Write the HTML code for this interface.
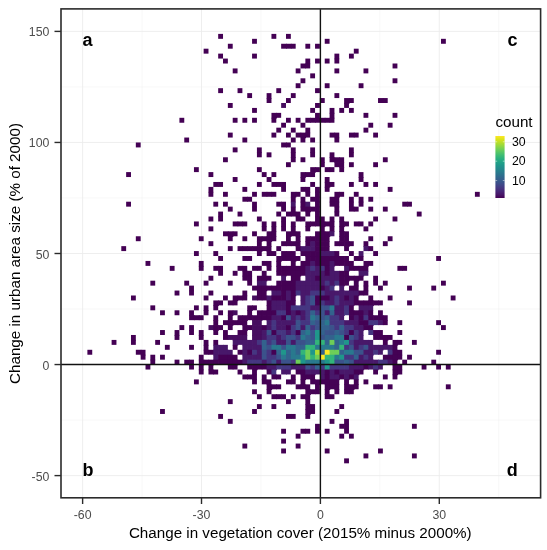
<!DOCTYPE html><html><head><meta charset="utf-8"><title>plot</title><style>html,body{margin:0;padding:0;background:#fff}svg{display:block}text{font-family:"Liberation Sans",sans-serif}</style></head><body>
<svg width="547" height="550" viewBox="0 0 547 550">
<rect width="547" height="550" fill="#fff"/>
<g><line x1="142.06" x2="142.06" y1="8.9" y2="497.8" stroke="#efefef" stroke-width="0.45"/><line x1="260.95" x2="260.95" y1="8.9" y2="497.8" stroke="#efefef" stroke-width="0.45"/><line x1="379.84" x2="379.84" y1="8.9" y2="497.8" stroke="#efefef" stroke-width="0.45"/><line x1="498.74" x2="498.74" y1="8.9" y2="497.8" stroke="#efefef" stroke-width="0.45"/><line y1="420.08" y2="420.08" x1="61.0" x2="540.6" stroke="#efefef" stroke-width="0.45"/><line y1="309.02" y2="309.02" x1="61.0" x2="540.6" stroke="#efefef" stroke-width="0.45"/><line y1="197.97" y2="197.97" x1="61.0" x2="540.6" stroke="#efefef" stroke-width="0.45"/><line y1="86.93" y2="86.93" x1="61.0" x2="540.6" stroke="#efefef" stroke-width="0.45"/><line x1="82.62" x2="82.62" y1="8.9" y2="497.8" stroke="#ebebeb" stroke-width="0.85"/><line x1="201.51" x2="201.51" y1="8.9" y2="497.8" stroke="#ebebeb" stroke-width="0.85"/><line x1="320.40" x2="320.40" y1="8.9" y2="497.8" stroke="#ebebeb" stroke-width="0.85"/><line x1="439.29" x2="439.29" y1="8.9" y2="497.8" stroke="#ebebeb" stroke-width="0.85"/><line y1="475.60" y2="475.60" x1="61.0" x2="540.6" stroke="#ebebeb" stroke-width="0.85"/><line y1="364.55" y2="364.55" x1="61.0" x2="540.6" stroke="#ebebeb" stroke-width="0.85"/><line y1="253.50" y2="253.50" x1="61.0" x2="540.6" stroke="#ebebeb" stroke-width="0.85"/><line y1="142.45" y2="142.45" x1="61.0" x2="540.6" stroke="#ebebeb" stroke-width="0.85"/><line y1="31.40" y2="31.40" x1="61.0" x2="540.6" stroke="#ebebeb" stroke-width="0.85"/></g>
<g shape-rendering="auto"><rect x="87.39" y="349.79" width="4.84" height="4.94" fill="#440154"/><rect x="111.61" y="339.92" width="4.84" height="4.94" fill="#440154"/><rect x="121.30" y="246.14" width="4.84" height="4.94" fill="#440154"/><rect x="126.14" y="172.10" width="4.84" height="4.94" fill="#440154"/><rect x="126.14" y="201.71" width="4.84" height="4.94" fill="#440154"/><rect x="130.98" y="295.50" width="4.84" height="4.94" fill="#440154"/><rect x="130.98" y="334.98" width="4.84" height="5.64" fill="#440154"/><rect x="130.98" y="339.92" width="4.84" height="4.94" fill="#440154"/><rect x="135.83" y="142.48" width="4.84" height="4.94" fill="#440154"/><rect x="135.83" y="236.26" width="4.84" height="4.94" fill="#440154"/><rect x="135.83" y="349.79" width="5.54" height="4.94" fill="#440154"/><rect x="140.67" y="349.79" width="4.84" height="5.64" fill="#440154"/><rect x="140.67" y="354.73" width="4.84" height="4.94" fill="#440154"/><rect x="145.52" y="260.94" width="4.84" height="4.94" fill="#440154"/><rect x="145.52" y="364.60" width="4.84" height="4.94" fill="#440154"/><rect x="150.36" y="280.69" width="4.84" height="4.94" fill="#440154"/><rect x="150.36" y="305.37" width="4.84" height="4.94" fill="#440154"/><rect x="150.36" y="354.73" width="4.84" height="5.64" fill="#440154"/><rect x="150.36" y="359.66" width="4.84" height="4.94" fill="#440154"/><rect x="155.20" y="339.92" width="4.84" height="4.94" fill="#440154"/><rect x="160.05" y="310.30" width="4.84" height="4.94" fill="#440154"/><rect x="160.05" y="330.05" width="4.84" height="4.94" fill="#440154"/><rect x="160.05" y="354.73" width="4.84" height="4.94" fill="#440154"/><rect x="160.05" y="409.02" width="4.84" height="4.94" fill="#440154"/><rect x="164.89" y="344.86" width="4.84" height="4.94" fill="#440154"/><rect x="169.74" y="265.88" width="4.84" height="4.94" fill="#440154"/><rect x="174.58" y="290.56" width="4.84" height="4.94" fill="#440154"/><rect x="174.58" y="310.30" width="4.84" height="4.94" fill="#440154"/><rect x="174.58" y="330.05" width="4.84" height="5.64" fill="#440154"/><rect x="174.58" y="334.98" width="4.84" height="4.94" fill="#440154"/><rect x="174.58" y="359.66" width="4.84" height="4.94" fill="#440154"/><rect x="179.42" y="117.80" width="4.84" height="4.94" fill="#440154"/><rect x="179.42" y="325.11" width="4.84" height="4.94" fill="#440154"/><rect x="184.27" y="137.54" width="4.84" height="4.94" fill="#440154"/><rect x="184.27" y="280.69" width="4.84" height="4.94" fill="#440154"/><rect x="184.27" y="359.66" width="5.54" height="4.94" fill="#440154"/><rect x="189.11" y="285.62" width="4.84" height="5.64" fill="#440154"/><rect x="189.11" y="290.56" width="4.84" height="4.94" fill="#440154"/><rect x="189.11" y="310.30" width="4.84" height="5.64" fill="#440154"/><rect x="189.11" y="315.24" width="5.54" height="4.94" fill="#440154"/><rect x="189.11" y="325.11" width="4.84" height="5.64" fill="#440154"/><rect x="189.11" y="330.05" width="4.84" height="4.94" fill="#440154"/><rect x="189.11" y="344.86" width="4.84" height="4.94" fill="#440154"/><rect x="189.11" y="359.66" width="4.84" height="5.64" fill="#440154"/><rect x="189.11" y="364.60" width="4.84" height="4.94" fill="#440154"/><rect x="193.96" y="167.16" width="4.84" height="4.94" fill="#440154"/><rect x="193.96" y="221.46" width="4.84" height="4.94" fill="#440154"/><rect x="193.96" y="251.07" width="4.84" height="4.94" fill="#440154"/><rect x="193.96" y="305.37" width="4.84" height="4.94" fill="#440154"/><rect x="193.96" y="315.24" width="5.54" height="4.94" fill="#440154"/><rect x="193.96" y="379.41" width="4.84" height="4.94" fill="#440154"/><rect x="198.80" y="236.26" width="4.84" height="4.94" fill="#440154"/><rect x="198.80" y="260.94" width="4.84" height="5.64" fill="#440154"/><rect x="198.80" y="265.88" width="4.84" height="4.94" fill="#440154"/><rect x="198.80" y="315.24" width="4.84" height="4.94" fill="#440154"/><rect x="198.80" y="330.05" width="4.84" height="5.64" fill="#440154"/><rect x="198.80" y="334.98" width="4.84" height="4.94" fill="#440154"/><rect x="198.80" y="354.73" width="4.84" height="5.64" fill="#440154"/><rect x="198.80" y="359.66" width="5.54" height="5.64" fill="#440154"/><rect x="198.80" y="364.60" width="4.84" height="5.64" fill="#440154"/><rect x="198.80" y="369.54" width="4.84" height="4.94" fill="#440154"/><rect x="203.64" y="48.70" width="4.84" height="4.94" fill="#440154"/><rect x="203.64" y="280.69" width="4.84" height="4.94" fill="#440154"/><rect x="203.64" y="295.50" width="4.84" height="4.94" fill="#440154"/><rect x="203.64" y="305.37" width="4.84" height="5.64" fill="#440154"/><rect x="203.64" y="310.30" width="4.84" height="4.94" fill="#440154"/><rect x="203.64" y="339.92" width="4.84" height="5.64" fill="#440154"/><rect x="203.64" y="344.86" width="4.84" height="5.64" fill="#440154"/><rect x="203.64" y="349.79" width="5.54" height="4.94" fill="#440154"/><rect x="203.64" y="359.66" width="5.54" height="4.94" fill="#440154"/><rect x="208.49" y="172.10" width="4.84" height="4.94" fill="#440154"/><rect x="208.49" y="186.90" width="4.84" height="5.64" fill="#440154"/><rect x="208.49" y="191.84" width="4.84" height="4.94" fill="#440154"/><rect x="208.49" y="216.52" width="4.84" height="4.94" fill="#440154"/><rect x="208.49" y="226.39" width="4.84" height="4.94" fill="#440154"/><rect x="208.49" y="241.20" width="4.84" height="4.94" fill="#440154"/><rect x="208.49" y="275.75" width="4.84" height="4.94" fill="#440154"/><rect x="208.49" y="290.56" width="4.84" height="4.94" fill="#440154"/><rect x="208.49" y="325.11" width="5.54" height="4.94" fill="#460d5f"/><rect x="208.49" y="349.79" width="5.54" height="4.94" fill="#440154"/><rect x="208.49" y="359.66" width="5.54" height="5.64" fill="#440154"/><rect x="208.49" y="364.60" width="4.84" height="5.64" fill="#440154"/><rect x="208.49" y="369.54" width="5.54" height="4.94" fill="#440154"/><rect x="213.33" y="181.97" width="5.54" height="4.94" fill="#440154"/><rect x="213.33" y="201.71" width="4.84" height="4.94" fill="#440154"/><rect x="213.33" y="251.07" width="4.84" height="4.94" fill="#440154"/><rect x="213.33" y="265.88" width="5.54" height="4.94" fill="#440154"/><rect x="213.33" y="300.43" width="5.54" height="5.64" fill="#440154"/><rect x="213.33" y="305.37" width="4.84" height="4.94" fill="#440154"/><rect x="213.33" y="315.24" width="4.84" height="5.64" fill="#440154"/><rect x="213.33" y="320.18" width="4.84" height="5.64" fill="#440154"/><rect x="213.33" y="325.11" width="5.54" height="5.64" fill="#440154"/><rect x="213.33" y="330.05" width="4.84" height="4.94" fill="#440154"/><rect x="213.33" y="339.92" width="4.84" height="5.64" fill="#440154"/><rect x="213.33" y="344.86" width="5.54" height="5.64" fill="#48186a"/><rect x="213.33" y="349.79" width="5.54" height="5.64" fill="#48186a"/><rect x="213.33" y="354.73" width="5.54" height="5.64" fill="#48186a"/><rect x="213.33" y="359.66" width="5.54" height="4.94" fill="#440154"/><rect x="213.33" y="369.54" width="4.84" height="4.94" fill="#440154"/><rect x="218.18" y="33.89" width="4.84" height="4.94" fill="#440154"/><rect x="218.18" y="53.63" width="4.84" height="4.94" fill="#440154"/><rect x="218.18" y="88.18" width="4.84" height="4.94" fill="#440154"/><rect x="218.18" y="181.97" width="4.84" height="4.94" fill="#440154"/><rect x="218.18" y="211.58" width="4.84" height="5.64" fill="#440154"/><rect x="218.18" y="216.52" width="4.84" height="4.94" fill="#440154"/><rect x="218.18" y="256.01" width="4.84" height="4.94" fill="#440154"/><rect x="218.18" y="265.88" width="4.84" height="5.64" fill="#440154"/><rect x="218.18" y="270.82" width="4.84" height="4.94" fill="#440154"/><rect x="218.18" y="300.43" width="4.84" height="4.94" fill="#440154"/><rect x="218.18" y="310.30" width="4.84" height="4.94" fill="#440154"/><rect x="218.18" y="325.11" width="4.84" height="4.94" fill="#440154"/><rect x="218.18" y="344.86" width="5.54" height="5.64" fill="#48186a"/><rect x="218.18" y="349.79" width="5.54" height="5.64" fill="#48186a"/><rect x="218.18" y="354.73" width="5.54" height="5.64" fill="#440154"/><rect x="218.18" y="359.66" width="5.54" height="4.94" fill="#440154"/><rect x="218.18" y="413.96" width="4.84" height="4.94" fill="#440154"/><rect x="223.02" y="58.57" width="4.84" height="4.94" fill="#440154"/><rect x="223.02" y="157.29" width="4.84" height="4.94" fill="#440154"/><rect x="223.02" y="191.84" width="4.84" height="4.94" fill="#440154"/><rect x="223.02" y="201.71" width="4.84" height="4.94" fill="#440154"/><rect x="223.02" y="231.33" width="5.54" height="4.94" fill="#440154"/><rect x="223.02" y="295.50" width="4.84" height="4.94" fill="#440154"/><rect x="223.02" y="320.18" width="5.54" height="4.94" fill="#440154"/><rect x="223.02" y="330.05" width="4.84" height="5.64" fill="#440154"/><rect x="223.02" y="334.98" width="5.54" height="4.94" fill="#440154"/><rect x="223.02" y="344.86" width="4.84" height="5.64" fill="#48186a"/><rect x="223.02" y="349.79" width="5.54" height="5.64" fill="#48186a"/><rect x="223.02" y="354.73" width="5.54" height="5.64" fill="#440154"/><rect x="223.02" y="359.66" width="5.54" height="4.94" fill="#440154"/><rect x="227.86" y="43.76" width="4.84" height="4.94" fill="#440154"/><rect x="227.86" y="102.99" width="4.84" height="4.94" fill="#440154"/><rect x="227.86" y="132.61" width="4.84" height="4.94" fill="#440154"/><rect x="227.86" y="206.65" width="4.84" height="4.94" fill="#440154"/><rect x="227.86" y="231.33" width="5.54" height="5.64" fill="#440154"/><rect x="227.86" y="236.26" width="4.84" height="4.94" fill="#440154"/><rect x="227.86" y="246.14" width="4.84" height="4.94" fill="#440154"/><rect x="227.86" y="280.69" width="4.84" height="4.94" fill="#440154"/><rect x="227.86" y="300.43" width="5.54" height="4.94" fill="#440154"/><rect x="227.86" y="310.30" width="5.54" height="5.64" fill="#440154"/><rect x="227.86" y="315.24" width="4.84" height="5.64" fill="#440154"/><rect x="227.86" y="320.18" width="5.54" height="5.64" fill="#440154"/><rect x="227.86" y="325.11" width="4.84" height="4.94" fill="#440154"/><rect x="227.86" y="334.98" width="5.54" height="4.94" fill="#460d5f"/><rect x="227.86" y="349.79" width="4.84" height="5.64" fill="#48186a"/><rect x="227.86" y="354.73" width="5.54" height="5.64" fill="#440154"/><rect x="227.86" y="359.66" width="5.54" height="5.64" fill="#440154"/><rect x="227.86" y="364.60" width="5.54" height="4.94" fill="#440154"/><rect x="227.86" y="399.15" width="4.84" height="4.94" fill="#440154"/><rect x="227.86" y="418.90" width="4.84" height="4.94" fill="#440154"/><rect x="232.71" y="68.44" width="4.84" height="4.94" fill="#440154"/><rect x="232.71" y="117.80" width="4.84" height="4.94" fill="#440154"/><rect x="232.71" y="147.42" width="4.84" height="4.94" fill="#440154"/><rect x="232.71" y="177.03" width="4.84" height="4.94" fill="#440154"/><rect x="232.71" y="221.46" width="5.54" height="4.94" fill="#440154"/><rect x="232.71" y="231.33" width="4.84" height="4.94" fill="#440154"/><rect x="232.71" y="270.82" width="4.84" height="4.94" fill="#440154"/><rect x="232.71" y="295.50" width="5.54" height="5.64" fill="#440154"/><rect x="232.71" y="300.43" width="4.84" height="4.94" fill="#440154"/><rect x="232.71" y="310.30" width="4.84" height="4.94" fill="#460d5f"/><rect x="232.71" y="320.18" width="5.54" height="4.94" fill="#440154"/><rect x="232.71" y="334.98" width="5.54" height="5.64" fill="#460d5f"/><rect x="232.71" y="339.92" width="5.54" height="5.64" fill="#48186a"/><rect x="232.71" y="344.86" width="4.84" height="4.94" fill="#440154"/><rect x="232.71" y="354.73" width="4.84" height="5.64" fill="#440154"/><rect x="232.71" y="359.66" width="5.54" height="5.64" fill="#440154"/><rect x="232.71" y="364.60" width="4.84" height="4.94" fill="#440154"/><rect x="237.55" y="88.18" width="4.84" height="4.94" fill="#440154"/><rect x="237.55" y="211.58" width="4.84" height="4.94" fill="#440154"/><rect x="237.55" y="221.46" width="5.54" height="4.94" fill="#440154"/><rect x="237.55" y="246.14" width="5.54" height="4.94" fill="#440154"/><rect x="237.55" y="265.88" width="5.54" height="4.94" fill="#440154"/><rect x="237.55" y="295.50" width="5.54" height="4.94" fill="#440154"/><rect x="237.55" y="315.24" width="5.54" height="5.64" fill="#440154"/><rect x="237.55" y="320.18" width="5.54" height="4.94" fill="#440154"/><rect x="237.55" y="330.05" width="5.54" height="5.64" fill="#440154"/><rect x="237.55" y="334.98" width="5.54" height="5.64" fill="#460d5f"/><rect x="237.55" y="339.92" width="5.54" height="4.94" fill="#48186a"/><rect x="237.55" y="349.79" width="5.54" height="4.94" fill="#440154"/><rect x="237.55" y="359.66" width="5.54" height="4.94" fill="#440154"/><rect x="237.55" y="369.54" width="4.84" height="4.94" fill="#440154"/><rect x="242.40" y="117.80" width="4.84" height="4.94" fill="#440154"/><rect x="242.40" y="137.54" width="4.84" height="4.94" fill="#440154"/><rect x="242.40" y="186.90" width="4.84" height="4.94" fill="#440154"/><rect x="242.40" y="196.78" width="5.54" height="4.94" fill="#440154"/><rect x="242.40" y="221.46" width="4.84" height="4.94" fill="#440154"/><rect x="242.40" y="236.26" width="4.84" height="4.94" fill="#440154"/><rect x="242.40" y="246.14" width="5.54" height="4.94" fill="#440154"/><rect x="242.40" y="256.01" width="5.54" height="4.94" fill="#440154"/><rect x="242.40" y="265.88" width="4.84" height="5.64" fill="#440154"/><rect x="242.40" y="270.82" width="5.54" height="5.64" fill="#440154"/><rect x="242.40" y="275.75" width="5.54" height="4.94" fill="#440154"/><rect x="242.40" y="290.56" width="4.84" height="5.64" fill="#440154"/><rect x="242.40" y="295.50" width="4.84" height="4.94" fill="#440154"/><rect x="242.40" y="315.24" width="5.54" height="5.64" fill="#440154"/><rect x="242.40" y="320.18" width="4.84" height="5.64" fill="#440154"/><rect x="242.40" y="325.11" width="5.54" height="5.64" fill="#440154"/><rect x="242.40" y="330.05" width="4.84" height="5.64" fill="#440154"/><rect x="242.40" y="334.98" width="4.84" height="5.64" fill="#460d5f"/><rect x="242.40" y="339.92" width="5.54" height="5.64" fill="#48186a"/><rect x="242.40" y="344.86" width="5.54" height="5.64" fill="#48186a"/><rect x="242.40" y="349.79" width="5.54" height="5.64" fill="#48186a"/><rect x="242.40" y="354.73" width="5.54" height="5.64" fill="#48186a"/><rect x="242.40" y="359.66" width="5.54" height="4.94" fill="#48186a"/><rect x="242.40" y="374.47" width="5.54" height="4.94" fill="#440154"/><rect x="242.40" y="443.58" width="4.84" height="4.94" fill="#440154"/><rect x="247.24" y="93.12" width="4.84" height="4.94" fill="#440154"/><rect x="247.24" y="196.78" width="4.84" height="4.94" fill="#440154"/><rect x="247.24" y="246.14" width="5.54" height="4.94" fill="#440154"/><rect x="247.24" y="256.01" width="4.84" height="4.94" fill="#440154"/><rect x="247.24" y="270.82" width="4.84" height="5.64" fill="#440154"/><rect x="247.24" y="275.75" width="4.84" height="5.64" fill="#440154"/><rect x="247.24" y="280.69" width="4.84" height="4.94" fill="#440154"/><rect x="247.24" y="305.37" width="5.54" height="5.64" fill="#440154"/><rect x="247.24" y="310.30" width="4.84" height="5.64" fill="#440154"/><rect x="247.24" y="315.24" width="5.54" height="4.94" fill="#440154"/><rect x="247.24" y="325.11" width="5.54" height="4.94" fill="#440154"/><rect x="247.24" y="339.92" width="5.54" height="5.64" fill="#48186a"/><rect x="247.24" y="344.86" width="5.54" height="5.64" fill="#48186a"/><rect x="247.24" y="349.79" width="5.54" height="5.64" fill="#440154"/><rect x="247.24" y="354.73" width="5.54" height="5.64" fill="#48186a"/><rect x="247.24" y="359.66" width="5.54" height="5.64" fill="#453681"/><rect x="247.24" y="364.60" width="5.54" height="4.94" fill="#440154"/><rect x="247.24" y="374.47" width="5.54" height="4.94" fill="#440154"/><rect x="252.08" y="38.82" width="4.84" height="4.94" fill="#440154"/><rect x="252.08" y="53.63" width="4.84" height="4.94" fill="#440154"/><rect x="252.08" y="107.93" width="4.84" height="4.94" fill="#440154"/><rect x="252.08" y="117.80" width="4.84" height="4.94" fill="#440154"/><rect x="252.08" y="191.84" width="4.84" height="4.94" fill="#440154"/><rect x="252.08" y="201.71" width="4.84" height="5.64" fill="#440154"/><rect x="252.08" y="206.65" width="4.84" height="4.94" fill="#440154"/><rect x="252.08" y="231.33" width="4.84" height="4.94" fill="#440154"/><rect x="252.08" y="246.14" width="5.54" height="4.94" fill="#440154"/><rect x="252.08" y="265.88" width="5.54" height="4.94" fill="#440154"/><rect x="252.08" y="285.62" width="5.54" height="4.94" fill="#440154"/><rect x="252.08" y="295.50" width="5.54" height="4.94" fill="#460d5f"/><rect x="252.08" y="305.37" width="4.84" height="4.94" fill="#440154"/><rect x="252.08" y="315.24" width="5.54" height="5.64" fill="#440154"/><rect x="252.08" y="320.18" width="5.54" height="5.64" fill="#460d5f"/><rect x="252.08" y="325.11" width="5.54" height="5.64" fill="#460d5f"/><rect x="252.08" y="330.05" width="5.54" height="5.64" fill="#460d5f"/><rect x="252.08" y="334.98" width="5.54" height="5.64" fill="#460d5f"/><rect x="252.08" y="339.92" width="5.54" height="5.64" fill="#48186a"/><rect x="252.08" y="344.86" width="5.54" height="5.64" fill="#48186a"/><rect x="252.08" y="349.79" width="5.54" height="5.64" fill="#453681"/><rect x="252.08" y="354.73" width="5.54" height="5.64" fill="#48186a"/><rect x="252.08" y="359.66" width="5.54" height="5.64" fill="#453681"/><rect x="252.08" y="364.60" width="5.54" height="5.64" fill="#440154"/><rect x="252.08" y="369.54" width="4.84" height="5.64" fill="#440154"/><rect x="252.08" y="374.47" width="4.84" height="5.64" fill="#440154"/><rect x="252.08" y="379.41" width="4.84" height="4.94" fill="#440154"/><rect x="252.08" y="389.28" width="4.84" height="4.94" fill="#440154"/><rect x="252.08" y="409.02" width="4.84" height="4.94" fill="#440154"/><rect x="256.93" y="147.42" width="4.84" height="5.64" fill="#440154"/><rect x="256.93" y="152.35" width="4.84" height="4.94" fill="#440154"/><rect x="256.93" y="167.16" width="4.84" height="4.94" fill="#440154"/><rect x="256.93" y="181.97" width="4.84" height="4.94" fill="#440154"/><rect x="256.93" y="216.52" width="4.84" height="4.94" fill="#440154"/><rect x="256.93" y="236.26" width="5.54" height="5.64" fill="#440154"/><rect x="256.93" y="241.20" width="4.84" height="5.64" fill="#440154"/><rect x="256.93" y="246.14" width="5.54" height="5.64" fill="#440154"/><rect x="256.93" y="251.07" width="4.84" height="4.94" fill="#440154"/><rect x="256.93" y="265.88" width="4.84" height="4.94" fill="#440154"/><rect x="256.93" y="275.75" width="5.54" height="5.64" fill="#440154"/><rect x="256.93" y="280.69" width="5.54" height="5.64" fill="#48186a"/><rect x="256.93" y="285.62" width="5.54" height="5.64" fill="#440154"/><rect x="256.93" y="290.56" width="5.54" height="5.64" fill="#440154"/><rect x="256.93" y="295.50" width="5.54" height="4.94" fill="#440154"/><rect x="256.93" y="310.30" width="5.54" height="5.64" fill="#440154"/><rect x="256.93" y="315.24" width="5.54" height="5.64" fill="#440154"/><rect x="256.93" y="320.18" width="4.84" height="5.64" fill="#460d5f"/><rect x="256.93" y="325.11" width="5.54" height="5.64" fill="#460d5f"/><rect x="256.93" y="330.05" width="5.54" height="5.64" fill="#460d5f"/><rect x="256.93" y="334.98" width="5.54" height="5.64" fill="#460d5f"/><rect x="256.93" y="339.92" width="5.54" height="5.64" fill="#453681"/><rect x="256.93" y="344.86" width="5.54" height="5.64" fill="#48186a"/><rect x="256.93" y="349.79" width="5.54" height="5.64" fill="#48186a"/><rect x="256.93" y="354.73" width="5.54" height="5.64" fill="#48186a"/><rect x="256.93" y="359.66" width="5.54" height="5.64" fill="#453681"/><rect x="256.93" y="364.60" width="5.54" height="4.94" fill="#440154"/><rect x="256.93" y="394.22" width="4.84" height="4.94" fill="#440154"/><rect x="256.93" y="404.09" width="4.84" height="4.94" fill="#440154"/><rect x="261.77" y="172.10" width="4.84" height="4.94" fill="#440154"/><rect x="261.77" y="191.84" width="5.54" height="4.94" fill="#440154"/><rect x="261.77" y="221.46" width="4.84" height="5.64" fill="#440154"/><rect x="261.77" y="226.39" width="4.84" height="4.94" fill="#440154"/><rect x="261.77" y="236.26" width="5.54" height="4.94" fill="#440154"/><rect x="261.77" y="246.14" width="5.54" height="4.94" fill="#440154"/><rect x="261.77" y="260.94" width="5.54" height="4.94" fill="#440154"/><rect x="261.77" y="270.82" width="4.84" height="5.64" fill="#440154"/><rect x="261.77" y="275.75" width="5.54" height="5.64" fill="#440154"/><rect x="261.77" y="280.69" width="4.84" height="5.64" fill="#48186a"/><rect x="261.77" y="285.62" width="5.54" height="5.64" fill="#440154"/><rect x="261.77" y="290.56" width="4.84" height="5.64" fill="#440154"/><rect x="261.77" y="295.50" width="5.54" height="4.94" fill="#440154"/><rect x="261.77" y="310.30" width="5.54" height="5.64" fill="#440154"/><rect x="261.77" y="315.24" width="5.54" height="4.94" fill="#440154"/><rect x="261.77" y="325.11" width="5.54" height="5.64" fill="#440154"/><rect x="261.77" y="330.05" width="5.54" height="5.64" fill="#48186a"/><rect x="261.77" y="334.98" width="5.54" height="5.64" fill="#48186a"/><rect x="261.77" y="339.92" width="5.54" height="5.64" fill="#33628d"/><rect x="261.77" y="344.86" width="5.54" height="5.64" fill="#33628d"/><rect x="261.77" y="349.79" width="5.54" height="5.64" fill="#3b528b"/><rect x="261.77" y="354.73" width="5.54" height="5.64" fill="#3b528b"/><rect x="261.77" y="359.66" width="5.54" height="5.64" fill="#48186a"/><rect x="261.77" y="364.60" width="5.54" height="4.94" fill="#440154"/><rect x="261.77" y="374.47" width="4.84" height="5.64" fill="#440154"/><rect x="261.77" y="379.41" width="5.54" height="4.94" fill="#440154"/><rect x="266.62" y="93.12" width="4.84" height="5.64" fill="#440154"/><rect x="266.62" y="98.06" width="4.84" height="4.94" fill="#440154"/><rect x="266.62" y="152.35" width="4.84" height="4.94" fill="#440154"/><rect x="266.62" y="177.03" width="4.84" height="4.94" fill="#440154"/><rect x="266.62" y="191.84" width="5.54" height="4.94" fill="#440154"/><rect x="266.62" y="231.33" width="5.54" height="5.64" fill="#440154"/><rect x="266.62" y="236.26" width="5.54" height="5.64" fill="#440154"/><rect x="266.62" y="241.20" width="4.84" height="5.64" fill="#440154"/><rect x="266.62" y="246.14" width="4.84" height="5.64" fill="#440154"/><rect x="266.62" y="251.07" width="5.54" height="4.94" fill="#440154"/><rect x="266.62" y="260.94" width="4.84" height="5.64" fill="#440154"/><rect x="266.62" y="265.88" width="4.84" height="4.94" fill="#440154"/><rect x="266.62" y="275.75" width="4.84" height="4.94" fill="#440154"/><rect x="266.62" y="285.62" width="5.54" height="4.94" fill="#440154"/><rect x="266.62" y="295.50" width="5.54" height="5.64" fill="#48186a"/><rect x="266.62" y="300.43" width="5.54" height="5.64" fill="#440154"/><rect x="266.62" y="305.37" width="5.54" height="5.64" fill="#440154"/><rect x="266.62" y="310.30" width="5.54" height="5.64" fill="#440154"/><rect x="266.62" y="315.24" width="5.54" height="5.64" fill="#440154"/><rect x="266.62" y="320.18" width="5.54" height="5.64" fill="#48186a"/><rect x="266.62" y="325.11" width="5.54" height="5.64" fill="#48186a"/><rect x="266.62" y="330.05" width="5.54" height="5.64" fill="#3b528b"/><rect x="266.62" y="334.98" width="5.54" height="5.64" fill="#453681"/><rect x="266.62" y="339.92" width="5.54" height="5.64" fill="#453681"/><rect x="266.62" y="344.86" width="5.54" height="5.64" fill="#3b528b"/><rect x="266.62" y="349.79" width="5.54" height="5.64" fill="#453681"/><rect x="266.62" y="354.73" width="5.54" height="5.64" fill="#453681"/><rect x="266.62" y="359.66" width="5.54" height="5.64" fill="#453681"/><rect x="266.62" y="364.60" width="5.54" height="5.64" fill="#48186a"/><rect x="266.62" y="369.54" width="5.54" height="4.94" fill="#440154"/><rect x="266.62" y="379.41" width="4.84" height="5.64" fill="#440154"/><rect x="266.62" y="384.34" width="5.54" height="5.64" fill="#440154"/><rect x="266.62" y="389.28" width="4.84" height="4.94" fill="#440154"/><rect x="271.46" y="33.89" width="4.84" height="4.94" fill="#440154"/><rect x="271.46" y="112.86" width="5.54" height="5.64" fill="#440154"/><rect x="271.46" y="117.80" width="4.84" height="4.94" fill="#440154"/><rect x="271.46" y="132.61" width="4.84" height="4.94" fill="#440154"/><rect x="271.46" y="172.10" width="4.84" height="4.94" fill="#440154"/><rect x="271.46" y="181.97" width="5.54" height="4.94" fill="#440154"/><rect x="271.46" y="191.84" width="4.84" height="4.94" fill="#440154"/><rect x="271.46" y="221.46" width="4.84" height="5.64" fill="#440154"/><rect x="271.46" y="226.39" width="4.84" height="5.64" fill="#440154"/><rect x="271.46" y="231.33" width="4.84" height="5.64" fill="#440154"/><rect x="271.46" y="236.26" width="4.84" height="4.94" fill="#440154"/><rect x="271.46" y="251.07" width="4.84" height="4.94" fill="#440154"/><rect x="271.46" y="285.62" width="5.54" height="5.64" fill="#440154"/><rect x="271.46" y="290.56" width="5.54" height="5.64" fill="#48186a"/><rect x="271.46" y="295.50" width="5.54" height="5.64" fill="#440154"/><rect x="271.46" y="300.43" width="5.54" height="5.64" fill="#48186a"/><rect x="271.46" y="305.37" width="5.54" height="5.64" fill="#48186a"/><rect x="271.46" y="310.30" width="5.54" height="5.64" fill="#440154"/><rect x="271.46" y="315.24" width="5.54" height="5.64" fill="#48186a"/><rect x="271.46" y="320.18" width="5.54" height="5.64" fill="#453681"/><rect x="271.46" y="325.11" width="5.54" height="5.64" fill="#453681"/><rect x="271.46" y="330.05" width="5.54" height="5.64" fill="#440154"/><rect x="271.46" y="334.98" width="5.54" height="5.64" fill="#453681"/><rect x="271.46" y="339.92" width="5.54" height="5.64" fill="#3b528b"/><rect x="271.46" y="344.86" width="5.54" height="5.64" fill="#29798e"/><rect x="271.46" y="349.79" width="5.54" height="5.64" fill="#440154"/><rect x="271.46" y="354.73" width="5.54" height="5.64" fill="#453681"/><rect x="271.46" y="359.66" width="5.54" height="5.64" fill="#3b528b"/><rect x="271.46" y="364.60" width="5.54" height="5.64" fill="#48186a"/><rect x="271.46" y="369.54" width="4.84" height="5.64" fill="#453681"/><rect x="271.46" y="374.47" width="5.54" height="4.94" fill="#440154"/><rect x="271.46" y="384.34" width="5.54" height="4.94" fill="#440154"/><rect x="271.46" y="394.22" width="5.54" height="4.94" fill="#440154"/><rect x="271.46" y="404.09" width="4.84" height="4.94" fill="#440154"/><rect x="276.30" y="88.18" width="4.84" height="4.94" fill="#440154"/><rect x="276.30" y="112.86" width="4.84" height="4.94" fill="#440154"/><rect x="276.30" y="127.67" width="4.84" height="4.94" fill="#440154"/><rect x="276.30" y="181.97" width="5.54" height="4.94" fill="#440154"/><rect x="276.30" y="201.71" width="5.54" height="4.94" fill="#440154"/><rect x="276.30" y="211.58" width="4.84" height="4.94" fill="#440154"/><rect x="276.30" y="246.14" width="4.84" height="4.94" fill="#440154"/><rect x="276.30" y="256.01" width="5.54" height="5.64" fill="#440154"/><rect x="276.30" y="260.94" width="4.84" height="5.64" fill="#440154"/><rect x="276.30" y="265.88" width="5.54" height="5.64" fill="#440154"/><rect x="276.30" y="270.82" width="5.54" height="4.94" fill="#440154"/><rect x="276.30" y="280.69" width="5.54" height="5.64" fill="#440154"/><rect x="276.30" y="285.62" width="5.54" height="5.64" fill="#440154"/><rect x="276.30" y="290.56" width="5.54" height="5.64" fill="#48186a"/><rect x="276.30" y="295.50" width="5.54" height="5.64" fill="#440154"/><rect x="276.30" y="300.43" width="5.54" height="5.64" fill="#48186a"/><rect x="276.30" y="305.37" width="5.54" height="5.64" fill="#48186a"/><rect x="276.30" y="310.30" width="5.54" height="5.64" fill="#453681"/><rect x="276.30" y="315.24" width="5.54" height="5.64" fill="#48186a"/><rect x="276.30" y="320.18" width="5.54" height="5.64" fill="#48186a"/><rect x="276.30" y="325.11" width="5.54" height="5.64" fill="#48186a"/><rect x="276.30" y="330.05" width="5.54" height="5.64" fill="#453681"/><rect x="276.30" y="334.98" width="5.54" height="5.64" fill="#48186a"/><rect x="276.30" y="339.92" width="5.54" height="5.64" fill="#48186a"/><rect x="276.30" y="344.86" width="5.54" height="5.64" fill="#29798e"/><rect x="276.30" y="349.79" width="5.54" height="5.64" fill="#33628d"/><rect x="276.30" y="354.73" width="5.54" height="5.64" fill="#3b528b"/><rect x="276.30" y="359.66" width="5.54" height="5.64" fill="#48186a"/><rect x="276.30" y="364.60" width="5.54" height="4.94" fill="#453681"/><rect x="276.30" y="374.47" width="4.84" height="4.94" fill="#440154"/><rect x="276.30" y="384.34" width="4.84" height="4.94" fill="#440154"/><rect x="276.30" y="394.22" width="5.54" height="4.94" fill="#440154"/><rect x="281.15" y="43.76" width="5.54" height="4.94" fill="#440154"/><rect x="281.15" y="102.99" width="4.84" height="4.94" fill="#460d5f"/><rect x="281.15" y="122.74" width="4.84" height="4.94" fill="#440154"/><rect x="281.15" y="142.48" width="5.54" height="4.94" fill="#440154"/><rect x="281.15" y="181.97" width="4.84" height="5.64" fill="#440154"/><rect x="281.15" y="186.90" width="4.84" height="4.94" fill="#440154"/><rect x="281.15" y="201.71" width="4.84" height="5.64" fill="#440154"/><rect x="281.15" y="206.65" width="4.84" height="4.94" fill="#440154"/><rect x="281.15" y="216.52" width="4.84" height="5.64" fill="#440154"/><rect x="281.15" y="221.46" width="4.84" height="5.64" fill="#440154"/><rect x="281.15" y="226.39" width="4.84" height="4.94" fill="#440154"/><rect x="281.15" y="241.20" width="5.54" height="4.94" fill="#440154"/><rect x="281.15" y="251.07" width="5.54" height="5.64" fill="#440154"/><rect x="281.15" y="256.01" width="5.54" height="4.94" fill="#440154"/><rect x="281.15" y="265.88" width="5.54" height="5.64" fill="#440154"/><rect x="281.15" y="270.82" width="5.54" height="5.64" fill="#440154"/><rect x="281.15" y="275.75" width="4.84" height="5.64" fill="#48186a"/><rect x="281.15" y="280.69" width="5.54" height="5.64" fill="#440154"/><rect x="281.15" y="285.62" width="5.54" height="5.64" fill="#440154"/><rect x="281.15" y="290.56" width="5.54" height="5.64" fill="#440154"/><rect x="281.15" y="295.50" width="5.54" height="5.64" fill="#440154"/><rect x="281.15" y="300.43" width="5.54" height="5.64" fill="#48186a"/><rect x="281.15" y="305.37" width="5.54" height="5.64" fill="#48186a"/><rect x="281.15" y="310.30" width="5.54" height="5.64" fill="#453681"/><rect x="281.15" y="315.24" width="5.54" height="5.64" fill="#440154"/><rect x="281.15" y="320.18" width="5.54" height="5.64" fill="#48186a"/><rect x="281.15" y="325.11" width="5.54" height="5.64" fill="#48186a"/><rect x="281.15" y="330.05" width="5.54" height="5.64" fill="#453681"/><rect x="281.15" y="334.98" width="5.54" height="5.64" fill="#453681"/><rect x="281.15" y="339.92" width="5.54" height="5.64" fill="#48186a"/><rect x="281.15" y="344.86" width="5.54" height="5.64" fill="#3b528b"/><rect x="281.15" y="349.79" width="5.54" height="5.64" fill="#1f978b"/><rect x="281.15" y="354.73" width="5.54" height="5.64" fill="#29798e"/><rect x="281.15" y="359.66" width="5.54" height="5.64" fill="#3b528b"/><rect x="281.15" y="364.60" width="5.54" height="5.64" fill="#453681"/><rect x="281.15" y="369.54" width="5.54" height="4.94" fill="#48186a"/><rect x="281.15" y="394.22" width="4.84" height="4.94" fill="#440154"/><rect x="281.15" y="428.77" width="4.84" height="4.94" fill="#440154"/><rect x="281.15" y="438.64" width="4.84" height="4.94" fill="#440154"/><rect x="281.15" y="448.51" width="4.84" height="4.94" fill="#440154"/><rect x="285.99" y="33.89" width="4.84" height="4.94" fill="#440154"/><rect x="285.99" y="43.76" width="5.54" height="4.94" fill="#440154"/><rect x="285.99" y="98.06" width="4.84" height="4.94" fill="#440154"/><rect x="285.99" y="117.80" width="4.84" height="4.94" fill="#440154"/><rect x="285.99" y="132.61" width="4.84" height="4.94" fill="#440154"/><rect x="285.99" y="142.48" width="4.84" height="4.94" fill="#440154"/><rect x="285.99" y="162.22" width="4.84" height="4.94" fill="#440154"/><rect x="285.99" y="211.58" width="5.54" height="4.94" fill="#440154"/><rect x="285.99" y="231.33" width="5.54" height="5.64" fill="#440154"/><rect x="285.99" y="236.26" width="4.84" height="5.64" fill="#440154"/><rect x="285.99" y="241.20" width="5.54" height="4.94" fill="#440154"/><rect x="285.99" y="251.07" width="5.54" height="5.64" fill="#440154"/><rect x="285.99" y="256.01" width="5.54" height="4.94" fill="#440154"/><rect x="285.99" y="265.88" width="5.54" height="5.64" fill="#440154"/><rect x="285.99" y="270.82" width="5.54" height="4.94" fill="#440154"/><rect x="285.99" y="280.69" width="5.54" height="5.64" fill="#440154"/><rect x="285.99" y="285.62" width="5.54" height="5.64" fill="#440154"/><rect x="285.99" y="290.56" width="5.54" height="5.64" fill="#48186a"/><rect x="285.99" y="295.50" width="5.54" height="5.64" fill="#48186a"/><rect x="285.99" y="300.43" width="5.54" height="5.64" fill="#440154"/><rect x="285.99" y="305.37" width="5.54" height="5.64" fill="#440154"/><rect x="285.99" y="310.30" width="5.54" height="5.64" fill="#440154"/><rect x="285.99" y="315.24" width="5.54" height="5.64" fill="#3b528b"/><rect x="285.99" y="320.18" width="5.54" height="5.64" fill="#48186a"/><rect x="285.99" y="325.11" width="5.54" height="5.64" fill="#440154"/><rect x="285.99" y="330.05" width="5.54" height="5.64" fill="#48186a"/><rect x="285.99" y="334.98" width="5.54" height="5.64" fill="#3b528b"/><rect x="285.99" y="339.92" width="5.54" height="5.64" fill="#3b528b"/><rect x="285.99" y="344.86" width="5.54" height="5.64" fill="#29798e"/><rect x="285.99" y="349.79" width="5.54" height="5.64" fill="#33628d"/><rect x="285.99" y="354.73" width="5.54" height="5.64" fill="#33628d"/><rect x="285.99" y="359.66" width="5.54" height="5.64" fill="#3b528b"/><rect x="285.99" y="364.60" width="5.54" height="5.64" fill="#453681"/><rect x="285.99" y="369.54" width="4.84" height="4.94" fill="#48186a"/><rect x="285.99" y="379.41" width="5.54" height="4.94" fill="#440154"/><rect x="285.99" y="399.15" width="4.84" height="4.94" fill="#440154"/><rect x="285.99" y="413.96" width="5.54" height="4.94" fill="#440154"/><rect x="290.84" y="43.76" width="4.84" height="4.94" fill="#440154"/><rect x="290.84" y="93.12" width="4.84" height="4.94" fill="#440154"/><rect x="290.84" y="127.67" width="4.84" height="4.94" fill="#440154"/><rect x="290.84" y="137.54" width="4.84" height="4.94" fill="#440154"/><rect x="290.84" y="147.42" width="4.84" height="5.64" fill="#440154"/><rect x="290.84" y="152.35" width="4.84" height="5.64" fill="#440154"/><rect x="290.84" y="157.29" width="4.84" height="4.94" fill="#440154"/><rect x="290.84" y="191.84" width="5.54" height="5.64" fill="#440154"/><rect x="290.84" y="196.78" width="4.84" height="5.64" fill="#440154"/><rect x="290.84" y="201.71" width="4.84" height="5.64" fill="#48186a"/><rect x="290.84" y="206.65" width="4.84" height="5.64" fill="#440154"/><rect x="290.84" y="211.58" width="5.54" height="4.94" fill="#440154"/><rect x="290.84" y="221.46" width="4.84" height="5.64" fill="#440154"/><rect x="290.84" y="226.39" width="4.84" height="5.64" fill="#440154"/><rect x="290.84" y="231.33" width="5.54" height="4.94" fill="#440154"/><rect x="290.84" y="241.20" width="5.54" height="4.94" fill="#440154"/><rect x="290.84" y="251.07" width="4.84" height="5.64" fill="#440154"/><rect x="290.84" y="256.01" width="5.54" height="5.64" fill="#440154"/><rect x="290.84" y="260.94" width="4.84" height="5.64" fill="#440154"/><rect x="290.84" y="265.88" width="5.54" height="5.64" fill="#440154"/><rect x="290.84" y="270.82" width="5.54" height="5.64" fill="#440154"/><rect x="290.84" y="275.75" width="5.54" height="5.64" fill="#440154"/><rect x="290.84" y="280.69" width="5.54" height="5.64" fill="#440154"/><rect x="290.84" y="285.62" width="5.54" height="5.64" fill="#440154"/><rect x="290.84" y="290.56" width="5.54" height="5.64" fill="#440154"/><rect x="290.84" y="295.50" width="4.84" height="5.64" fill="#440154"/><rect x="290.84" y="300.43" width="4.84" height="5.64" fill="#440154"/><rect x="290.84" y="305.37" width="5.54" height="5.64" fill="#453681"/><rect x="290.84" y="310.30" width="5.54" height="5.64" fill="#48186a"/><rect x="290.84" y="315.24" width="5.54" height="5.64" fill="#48186a"/><rect x="290.84" y="320.18" width="5.54" height="5.64" fill="#48186a"/><rect x="290.84" y="325.11" width="5.54" height="5.64" fill="#453681"/><rect x="290.84" y="330.05" width="5.54" height="5.64" fill="#453681"/><rect x="290.84" y="334.98" width="5.54" height="5.64" fill="#3b528b"/><rect x="290.84" y="339.92" width="5.54" height="5.64" fill="#48186a"/><rect x="290.84" y="344.86" width="5.54" height="5.64" fill="#29798e"/><rect x="290.84" y="349.79" width="5.54" height="5.64" fill="#29798e"/><rect x="290.84" y="354.73" width="5.54" height="5.64" fill="#29798e"/><rect x="290.84" y="359.66" width="5.54" height="5.64" fill="#453681"/><rect x="290.84" y="364.60" width="5.54" height="4.94" fill="#48186a"/><rect x="290.84" y="374.47" width="4.84" height="5.64" fill="#440154"/><rect x="290.84" y="379.41" width="4.84" height="4.94" fill="#440154"/><rect x="290.84" y="394.22" width="4.84" height="4.94" fill="#440154"/><rect x="290.84" y="413.96" width="4.84" height="4.94" fill="#440154"/><rect x="295.68" y="68.44" width="4.84" height="4.94" fill="#440154"/><rect x="295.68" y="83.25" width="4.84" height="4.94" fill="#440154"/><rect x="295.68" y="117.80" width="4.84" height="4.94" fill="#440154"/><rect x="295.68" y="132.61" width="5.54" height="4.94" fill="#440154"/><rect x="295.68" y="191.84" width="4.84" height="4.94" fill="#440154"/><rect x="295.68" y="211.58" width="4.84" height="5.64" fill="#440154"/><rect x="295.68" y="216.52" width="5.54" height="4.94" fill="#440154"/><rect x="295.68" y="231.33" width="4.84" height="5.64" fill="#440154"/><rect x="295.68" y="236.26" width="4.84" height="5.64" fill="#440154"/><rect x="295.68" y="241.20" width="4.84" height="5.64" fill="#440154"/><rect x="295.68" y="246.14" width="5.54" height="4.94" fill="#440154"/><rect x="295.68" y="256.01" width="4.84" height="4.94" fill="#440154"/><rect x="295.68" y="265.88" width="5.54" height="5.64" fill="#440154"/><rect x="295.68" y="270.82" width="5.54" height="5.64" fill="#440154"/><rect x="295.68" y="275.75" width="4.84" height="5.64" fill="#440154"/><rect x="295.68" y="280.69" width="5.54" height="5.64" fill="#48186a"/><rect x="295.68" y="285.62" width="5.54" height="5.64" fill="#48186a"/><rect x="295.68" y="290.56" width="5.54" height="4.94" fill="#453681"/><rect x="295.68" y="305.37" width="5.54" height="5.64" fill="#453681"/><rect x="295.68" y="310.30" width="5.54" height="5.64" fill="#440154"/><rect x="295.68" y="315.24" width="5.54" height="5.64" fill="#453681"/><rect x="295.68" y="320.18" width="5.54" height="5.64" fill="#3b528b"/><rect x="295.68" y="325.11" width="5.54" height="5.64" fill="#3b528b"/><rect x="295.68" y="330.05" width="5.54" height="5.64" fill="#440154"/><rect x="295.68" y="334.98" width="5.54" height="5.64" fill="#453681"/><rect x="295.68" y="339.92" width="5.54" height="5.64" fill="#3b528b"/><rect x="295.68" y="344.86" width="5.54" height="5.64" fill="#33628d"/><rect x="295.68" y="349.79" width="5.54" height="5.64" fill="#33628d"/><rect x="295.68" y="354.73" width="5.54" height="5.64" fill="#29798e"/><rect x="295.68" y="359.66" width="5.54" height="5.64" fill="#6ece58"/><rect x="295.68" y="364.60" width="5.54" height="5.64" fill="#48186a"/><rect x="295.68" y="369.54" width="5.54" height="4.94" fill="#440154"/><rect x="295.68" y="384.34" width="5.54" height="4.94" fill="#440154"/><rect x="295.68" y="433.70" width="4.84" height="4.94" fill="#440154"/><rect x="295.68" y="443.58" width="4.84" height="4.94" fill="#440154"/><rect x="300.52" y="63.50" width="5.54" height="4.94" fill="#440154"/><rect x="300.52" y="78.31" width="4.84" height="4.94" fill="#440154"/><rect x="300.52" y="122.74" width="4.84" height="4.94" fill="#440154"/><rect x="300.52" y="132.61" width="5.54" height="5.64" fill="#440154"/><rect x="300.52" y="137.54" width="4.84" height="4.94" fill="#440154"/><rect x="300.52" y="157.29" width="4.84" height="4.94" fill="#440154"/><rect x="300.52" y="172.10" width="5.54" height="5.64" fill="#440154"/><rect x="300.52" y="177.03" width="4.84" height="4.94" fill="#440154"/><rect x="300.52" y="186.90" width="5.54" height="4.94" fill="#440154"/><rect x="300.52" y="196.78" width="4.84" height="5.64" fill="#440154"/><rect x="300.52" y="201.71" width="5.54" height="5.64" fill="#440154"/><rect x="300.52" y="206.65" width="5.54" height="4.94" fill="#440154"/><rect x="300.52" y="216.52" width="4.84" height="4.94" fill="#440154"/><rect x="300.52" y="246.14" width="5.54" height="5.64" fill="#48186a"/><rect x="300.52" y="251.07" width="5.54" height="4.94" fill="#440154"/><rect x="300.52" y="260.94" width="5.54" height="5.64" fill="#440154"/><rect x="300.52" y="265.88" width="5.54" height="5.64" fill="#440154"/><rect x="300.52" y="270.82" width="5.54" height="4.94" fill="#440154"/><rect x="300.52" y="280.69" width="5.54" height="5.64" fill="#48186a"/><rect x="300.52" y="285.62" width="5.54" height="5.64" fill="#48186a"/><rect x="300.52" y="290.56" width="5.54" height="5.64" fill="#48186a"/><rect x="300.52" y="295.50" width="5.54" height="5.64" fill="#48186a"/><rect x="300.52" y="300.43" width="5.54" height="5.64" fill="#48186a"/><rect x="300.52" y="305.37" width="5.54" height="5.64" fill="#453681"/><rect x="300.52" y="310.30" width="5.54" height="5.64" fill="#48186a"/><rect x="300.52" y="315.24" width="5.54" height="5.64" fill="#48186a"/><rect x="300.52" y="320.18" width="5.54" height="5.64" fill="#453681"/><rect x="300.52" y="325.11" width="5.54" height="5.64" fill="#48186a"/><rect x="300.52" y="330.05" width="5.54" height="5.64" fill="#33628d"/><rect x="300.52" y="334.98" width="5.54" height="5.64" fill="#29798e"/><rect x="300.52" y="339.92" width="5.54" height="5.64" fill="#3b528b"/><rect x="300.52" y="344.86" width="5.54" height="5.64" fill="#33628d"/><rect x="300.52" y="349.79" width="5.54" height="5.64" fill="#32b57a"/><rect x="300.52" y="354.73" width="5.54" height="5.64" fill="#1f978b"/><rect x="300.52" y="359.66" width="5.54" height="5.64" fill="#1f978b"/><rect x="300.52" y="364.60" width="5.54" height="5.64" fill="#48186a"/><rect x="300.52" y="369.54" width="5.54" height="5.64" fill="#440154"/><rect x="300.52" y="374.47" width="5.54" height="5.64" fill="#440154"/><rect x="300.52" y="379.41" width="4.84" height="5.64" fill="#440154"/><rect x="300.52" y="384.34" width="5.54" height="4.94" fill="#440154"/><rect x="300.52" y="394.22" width="5.54" height="4.94" fill="#440154"/><rect x="300.52" y="428.77" width="5.54" height="4.94" fill="#440154"/><rect x="305.37" y="43.76" width="4.84" height="4.94" fill="#440154"/><rect x="305.37" y="58.57" width="4.84" height="5.64" fill="#440154"/><rect x="305.37" y="63.50" width="4.84" height="4.94" fill="#440154"/><rect x="305.37" y="117.80" width="5.54" height="4.94" fill="#440154"/><rect x="305.37" y="127.67" width="4.84" height="5.64" fill="#440154"/><rect x="305.37" y="132.61" width="4.84" height="4.94" fill="#440154"/><rect x="305.37" y="172.10" width="5.54" height="4.94" fill="#440154"/><rect x="305.37" y="186.90" width="4.84" height="5.64" fill="#440154"/><rect x="305.37" y="191.84" width="4.84" height="4.94" fill="#440154"/><rect x="305.37" y="201.71" width="4.84" height="5.64" fill="#48186a"/><rect x="305.37" y="206.65" width="5.54" height="5.64" fill="#440154"/><rect x="305.37" y="211.58" width="4.84" height="4.94" fill="#440154"/><rect x="305.37" y="221.46" width="5.54" height="5.64" fill="#440154"/><rect x="305.37" y="226.39" width="4.84" height="4.94" fill="#440154"/><rect x="305.37" y="236.26" width="5.54" height="5.64" fill="#440154"/><rect x="305.37" y="241.20" width="5.54" height="5.64" fill="#440154"/><rect x="305.37" y="246.14" width="5.54" height="5.64" fill="#48186a"/><rect x="305.37" y="251.07" width="5.54" height="5.64" fill="#440154"/><rect x="305.37" y="256.01" width="5.54" height="5.64" fill="#440154"/><rect x="305.37" y="260.94" width="5.54" height="5.64" fill="#440154"/><rect x="305.37" y="265.88" width="5.54" height="5.64" fill="#48186a"/><rect x="305.37" y="270.82" width="5.54" height="5.64" fill="#48186a"/><rect x="305.37" y="275.75" width="5.54" height="5.64" fill="#48186a"/><rect x="305.37" y="280.69" width="5.54" height="5.64" fill="#48186a"/><rect x="305.37" y="285.62" width="5.54" height="5.64" fill="#48186a"/><rect x="305.37" y="290.56" width="5.54" height="5.64" fill="#48186a"/><rect x="305.37" y="295.50" width="5.54" height="5.64" fill="#453681"/><rect x="305.37" y="300.43" width="5.54" height="5.64" fill="#453681"/><rect x="305.37" y="305.37" width="5.54" height="5.64" fill="#453681"/><rect x="305.37" y="310.30" width="5.54" height="5.64" fill="#453681"/><rect x="305.37" y="315.24" width="5.54" height="5.64" fill="#453681"/><rect x="305.37" y="320.18" width="5.54" height="5.64" fill="#453681"/><rect x="305.37" y="325.11" width="5.54" height="5.64" fill="#33628d"/><rect x="305.37" y="330.05" width="5.54" height="5.64" fill="#29798e"/><rect x="305.37" y="334.98" width="5.54" height="5.64" fill="#33628d"/><rect x="305.37" y="339.92" width="5.54" height="5.64" fill="#33628d"/><rect x="305.37" y="344.86" width="5.54" height="5.64" fill="#32b57a"/><rect x="305.37" y="349.79" width="5.54" height="5.64" fill="#6ece58"/><rect x="305.37" y="354.73" width="5.54" height="5.64" fill="#6ece58"/><rect x="305.37" y="359.66" width="5.54" height="5.64" fill="#29798e"/><rect x="305.37" y="364.60" width="5.54" height="5.64" fill="#3b528b"/><rect x="305.37" y="369.54" width="5.54" height="5.64" fill="#48186a"/><rect x="305.37" y="374.47" width="5.54" height="4.94" fill="#440154"/><rect x="305.37" y="384.34" width="4.84" height="5.64" fill="#440154"/><rect x="305.37" y="389.28" width="5.54" height="5.64" fill="#440154"/><rect x="305.37" y="394.22" width="4.84" height="5.64" fill="#440154"/><rect x="305.37" y="399.15" width="4.84" height="5.64" fill="#440154"/><rect x="305.37" y="404.09" width="5.54" height="5.64" fill="#440154"/><rect x="305.37" y="409.02" width="5.54" height="5.64" fill="#440154"/><rect x="305.37" y="413.96" width="4.84" height="4.94" fill="#440154"/><rect x="305.37" y="428.77" width="4.84" height="4.94" fill="#440154"/><rect x="310.21" y="73.38" width="4.84" height="4.94" fill="#440154"/><rect x="310.21" y="107.93" width="4.84" height="4.94" fill="#440154"/><rect x="310.21" y="117.80" width="5.54" height="4.94" fill="#440154"/><rect x="310.21" y="137.54" width="4.84" height="4.94" fill="#440154"/><rect x="310.21" y="147.42" width="4.84" height="5.64" fill="#440154"/><rect x="310.21" y="152.35" width="4.84" height="4.94" fill="#440154"/><rect x="310.21" y="167.16" width="5.54" height="5.64" fill="#440154"/><rect x="310.21" y="172.10" width="4.84" height="4.94" fill="#440154"/><rect x="310.21" y="181.97" width="4.84" height="4.94" fill="#440154"/><rect x="310.21" y="196.78" width="5.54" height="4.94" fill="#440154"/><rect x="310.21" y="206.65" width="5.54" height="4.94" fill="#440154"/><rect x="310.21" y="221.46" width="5.54" height="4.94" fill="#440154"/><rect x="310.21" y="236.26" width="5.54" height="5.64" fill="#440154"/><rect x="310.21" y="241.20" width="5.54" height="5.64" fill="#48186a"/><rect x="310.21" y="246.14" width="5.54" height="5.64" fill="#48186a"/><rect x="310.21" y="251.07" width="5.54" height="5.64" fill="#440154"/><rect x="310.21" y="256.01" width="5.54" height="5.64" fill="#440154"/><rect x="310.21" y="260.94" width="5.54" height="5.64" fill="#48186a"/><rect x="310.21" y="265.88" width="5.54" height="5.64" fill="#453681"/><rect x="310.21" y="270.82" width="5.54" height="5.64" fill="#48186a"/><rect x="310.21" y="275.75" width="5.54" height="5.64" fill="#48186a"/><rect x="310.21" y="280.69" width="5.54" height="5.64" fill="#48186a"/><rect x="310.21" y="285.62" width="5.54" height="5.64" fill="#48186a"/><rect x="310.21" y="290.56" width="5.54" height="5.64" fill="#453681"/><rect x="310.21" y="295.50" width="5.54" height="5.64" fill="#3b528b"/><rect x="310.21" y="300.43" width="5.54" height="5.64" fill="#3b528b"/><rect x="310.21" y="305.37" width="5.54" height="5.64" fill="#48186a"/><rect x="310.21" y="310.30" width="5.54" height="5.64" fill="#33628d"/><rect x="310.21" y="315.24" width="5.54" height="5.64" fill="#29798e"/><rect x="310.21" y="320.18" width="5.54" height="5.64" fill="#33628d"/><rect x="310.21" y="325.11" width="5.54" height="5.64" fill="#453681"/><rect x="310.21" y="330.05" width="5.54" height="5.64" fill="#3b528b"/><rect x="310.21" y="334.98" width="5.54" height="5.64" fill="#3b528b"/><rect x="310.21" y="339.92" width="5.54" height="5.64" fill="#33628d"/><rect x="310.21" y="344.86" width="5.54" height="5.64" fill="#32b57a"/><rect x="310.21" y="349.79" width="5.54" height="5.64" fill="#1f978b"/><rect x="310.21" y="354.73" width="5.54" height="5.64" fill="#32b57a"/><rect x="310.21" y="359.66" width="5.54" height="5.64" fill="#29798e"/><rect x="310.21" y="364.60" width="5.54" height="5.64" fill="#453681"/><rect x="310.21" y="369.54" width="5.54" height="5.64" fill="#48186a"/><rect x="310.21" y="374.47" width="4.84" height="5.64" fill="#440154"/><rect x="310.21" y="379.41" width="5.54" height="4.94" fill="#440154"/><rect x="310.21" y="389.28" width="5.54" height="4.94" fill="#440154"/><rect x="310.21" y="404.09" width="4.84" height="5.64" fill="#440154"/><rect x="310.21" y="409.02" width="4.84" height="4.94" fill="#440154"/><rect x="315.06" y="43.76" width="4.84" height="4.94" fill="#440154"/><rect x="315.06" y="58.57" width="4.84" height="4.94" fill="#440154"/><rect x="315.06" y="88.18" width="4.84" height="4.94" fill="#440154"/><rect x="315.06" y="102.99" width="4.84" height="4.94" fill="#440154"/><rect x="315.06" y="112.86" width="4.84" height="5.64" fill="#440154"/><rect x="315.06" y="117.80" width="5.54" height="4.94" fill="#440154"/><rect x="315.06" y="167.16" width="4.84" height="4.94" fill="#440154"/><rect x="315.06" y="186.90" width="4.84" height="5.64" fill="#440154"/><rect x="315.06" y="191.84" width="4.84" height="5.64" fill="#440154"/><rect x="315.06" y="196.78" width="4.84" height="5.64" fill="#440154"/><rect x="315.06" y="201.71" width="4.84" height="5.64" fill="#440154"/><rect x="315.06" y="206.65" width="4.84" height="5.64" fill="#440154"/><rect x="315.06" y="211.58" width="4.84" height="5.64" fill="#440154"/><rect x="315.06" y="216.52" width="5.54" height="5.64" fill="#440154"/><rect x="315.06" y="221.46" width="5.54" height="4.94" fill="#440154"/><rect x="315.06" y="231.33" width="5.54" height="5.64" fill="#440154"/><rect x="315.06" y="236.26" width="5.54" height="5.64" fill="#440154"/><rect x="315.06" y="241.20" width="5.54" height="5.64" fill="#440154"/><rect x="315.06" y="246.14" width="5.54" height="5.64" fill="#440154"/><rect x="315.06" y="251.07" width="5.54" height="5.64" fill="#440154"/><rect x="315.06" y="256.01" width="5.54" height="5.64" fill="#440154"/><rect x="315.06" y="260.94" width="5.54" height="5.64" fill="#440154"/><rect x="315.06" y="265.88" width="5.54" height="5.64" fill="#48186a"/><rect x="315.06" y="270.82" width="5.54" height="5.64" fill="#48186a"/><rect x="315.06" y="275.75" width="5.54" height="5.64" fill="#440154"/><rect x="315.06" y="280.69" width="5.54" height="5.64" fill="#48186a"/><rect x="315.06" y="285.62" width="5.54" height="5.64" fill="#48186a"/><rect x="315.06" y="290.56" width="5.54" height="5.64" fill="#453681"/><rect x="315.06" y="295.50" width="5.54" height="5.64" fill="#440154"/><rect x="315.06" y="300.43" width="5.54" height="5.64" fill="#440154"/><rect x="315.06" y="305.37" width="5.54" height="5.64" fill="#48186a"/><rect x="315.06" y="310.30" width="5.54" height="5.64" fill="#453681"/><rect x="315.06" y="315.24" width="5.54" height="5.64" fill="#33628d"/><rect x="315.06" y="320.18" width="5.54" height="5.64" fill="#3b528b"/><rect x="315.06" y="325.11" width="5.54" height="5.64" fill="#3b528b"/><rect x="315.06" y="330.05" width="5.54" height="5.64" fill="#1f978b"/><rect x="315.06" y="334.98" width="5.54" height="5.64" fill="#1f978b"/><rect x="315.06" y="339.92" width="5.54" height="5.64" fill="#32b57a"/><rect x="315.06" y="344.86" width="5.54" height="5.64" fill="#29798e"/><rect x="315.06" y="349.79" width="5.54" height="5.64" fill="#abdc32"/><rect x="315.06" y="354.73" width="5.54" height="5.64" fill="#6ece58"/><rect x="315.06" y="359.66" width="5.54" height="5.64" fill="#29798e"/><rect x="315.06" y="364.60" width="5.54" height="5.64" fill="#33628d"/><rect x="315.06" y="369.54" width="5.54" height="4.94" fill="#48186a"/><rect x="315.06" y="379.41" width="5.54" height="5.64" fill="#440154"/><rect x="315.06" y="384.34" width="4.84" height="5.64" fill="#440154"/><rect x="315.06" y="389.28" width="4.84" height="4.94" fill="#440154"/><rect x="315.06" y="423.83" width="4.84" height="5.64" fill="#440154"/><rect x="315.06" y="428.77" width="4.84" height="4.94" fill="#440154"/><rect x="319.90" y="98.06" width="4.84" height="4.94" fill="#440154"/><rect x="319.90" y="117.80" width="5.54" height="4.94" fill="#440154"/><rect x="319.90" y="157.29" width="4.84" height="5.64" fill="#440154"/><rect x="319.90" y="162.22" width="4.84" height="4.94" fill="#440154"/><rect x="319.90" y="216.52" width="4.84" height="5.64" fill="#440154"/><rect x="319.90" y="221.46" width="5.54" height="5.64" fill="#440154"/><rect x="319.90" y="226.39" width="4.84" height="5.64" fill="#440154"/><rect x="319.90" y="231.33" width="5.54" height="5.64" fill="#440154"/><rect x="319.90" y="236.26" width="5.54" height="5.64" fill="#440154"/><rect x="319.90" y="241.20" width="5.54" height="5.64" fill="#440154"/><rect x="319.90" y="246.14" width="5.54" height="5.64" fill="#440154"/><rect x="319.90" y="251.07" width="5.54" height="5.64" fill="#48186a"/><rect x="319.90" y="256.01" width="5.54" height="5.64" fill="#440154"/><rect x="319.90" y="260.94" width="5.54" height="5.64" fill="#440154"/><rect x="319.90" y="265.88" width="5.54" height="5.64" fill="#453681"/><rect x="319.90" y="270.82" width="5.54" height="5.64" fill="#48186a"/><rect x="319.90" y="275.75" width="5.54" height="5.64" fill="#48186a"/><rect x="319.90" y="280.69" width="5.54" height="5.64" fill="#48186a"/><rect x="319.90" y="285.62" width="5.54" height="5.64" fill="#440154"/><rect x="319.90" y="290.56" width="5.54" height="5.64" fill="#453681"/><rect x="319.90" y="295.50" width="5.54" height="5.64" fill="#440154"/><rect x="319.90" y="300.43" width="5.54" height="5.64" fill="#453681"/><rect x="319.90" y="305.37" width="5.54" height="5.64" fill="#3b528b"/><rect x="319.90" y="310.30" width="5.54" height="5.64" fill="#3b528b"/><rect x="319.90" y="315.24" width="5.54" height="5.64" fill="#3b528b"/><rect x="319.90" y="320.18" width="5.54" height="5.64" fill="#33628d"/><rect x="319.90" y="325.11" width="5.54" height="5.64" fill="#33628d"/><rect x="319.90" y="330.05" width="5.54" height="5.64" fill="#33628d"/><rect x="319.90" y="334.98" width="5.54" height="5.64" fill="#3b528b"/><rect x="319.90" y="339.92" width="5.54" height="5.64" fill="#32b57a"/><rect x="319.90" y="344.86" width="5.54" height="5.64" fill="#29798e"/><rect x="319.90" y="349.79" width="5.54" height="5.64" fill="#33628d"/><rect x="319.90" y="354.73" width="5.54" height="5.64" fill="#FDE725"/><rect x="319.90" y="359.66" width="5.54" height="5.64" fill="#29798e"/><rect x="319.90" y="364.60" width="5.54" height="5.64" fill="#453681"/><rect x="319.90" y="369.54" width="5.54" height="5.64" fill="#48186a"/><rect x="319.90" y="374.47" width="5.54" height="5.64" fill="#48186a"/><rect x="319.90" y="379.41" width="5.54" height="4.94" fill="#440154"/><rect x="324.74" y="38.82" width="4.84" height="4.94" fill="#440154"/><rect x="324.74" y="58.57" width="4.84" height="4.94" fill="#440154"/><rect x="324.74" y="83.25" width="4.84" height="4.94" fill="#440154"/><rect x="324.74" y="117.80" width="5.54" height="4.94" fill="#440154"/><rect x="324.74" y="167.16" width="5.54" height="4.94" fill="#440154"/><rect x="324.74" y="177.03" width="4.84" height="5.64" fill="#440154"/><rect x="324.74" y="181.97" width="5.54" height="5.64" fill="#440154"/><rect x="324.74" y="186.90" width="4.84" height="4.94" fill="#440154"/><rect x="324.74" y="221.46" width="5.54" height="4.94" fill="#440154"/><rect x="324.74" y="231.33" width="5.54" height="5.64" fill="#440154"/><rect x="324.74" y="236.26" width="4.84" height="5.64" fill="#440154"/><rect x="324.74" y="241.20" width="4.84" height="5.64" fill="#440154"/><rect x="324.74" y="246.14" width="4.84" height="5.64" fill="#440154"/><rect x="324.74" y="251.07" width="5.54" height="5.64" fill="#48186a"/><rect x="324.74" y="256.01" width="5.54" height="5.64" fill="#440154"/><rect x="324.74" y="260.94" width="5.54" height="5.64" fill="#440154"/><rect x="324.74" y="265.88" width="5.54" height="5.64" fill="#440154"/><rect x="324.74" y="270.82" width="5.54" height="5.64" fill="#440154"/><rect x="324.74" y="275.75" width="5.54" height="5.64" fill="#48186a"/><rect x="324.74" y="280.69" width="5.54" height="5.64" fill="#453681"/><rect x="324.74" y="285.62" width="5.54" height="5.64" fill="#48186a"/><rect x="324.74" y="290.56" width="5.54" height="5.64" fill="#48186a"/><rect x="324.74" y="295.50" width="5.54" height="5.64" fill="#440154"/><rect x="324.74" y="300.43" width="5.54" height="5.64" fill="#48186a"/><rect x="324.74" y="305.37" width="5.54" height="5.64" fill="#3b528b"/><rect x="324.74" y="310.30" width="5.54" height="5.64" fill="#48186a"/><rect x="324.74" y="315.24" width="5.54" height="5.64" fill="#33628d"/><rect x="324.74" y="320.18" width="5.54" height="5.64" fill="#29798e"/><rect x="324.74" y="325.11" width="5.54" height="5.64" fill="#33628d"/><rect x="324.74" y="330.05" width="5.54" height="5.64" fill="#3b528b"/><rect x="324.74" y="334.98" width="5.54" height="5.64" fill="#33628d"/><rect x="324.74" y="339.92" width="5.54" height="5.64" fill="#33628d"/><rect x="324.74" y="344.86" width="5.54" height="5.64" fill="#29798e"/><rect x="324.74" y="349.79" width="5.54" height="5.64" fill="#FDE725"/><rect x="324.74" y="354.73" width="5.54" height="5.64" fill="#32b57a"/><rect x="324.74" y="359.66" width="5.54" height="5.64" fill="#1f978b"/><rect x="324.74" y="364.60" width="5.54" height="5.64" fill="#1f978b"/><rect x="324.74" y="369.54" width="5.54" height="5.64" fill="#440154"/><rect x="324.74" y="374.47" width="5.54" height="5.64" fill="#440154"/><rect x="324.74" y="379.41" width="5.54" height="5.64" fill="#440154"/><rect x="324.74" y="384.34" width="5.54" height="5.64" fill="#440154"/><rect x="324.74" y="389.28" width="4.84" height="5.64" fill="#440154"/><rect x="324.74" y="394.22" width="5.54" height="4.94" fill="#440154"/><rect x="324.74" y="428.77" width="4.84" height="4.94" fill="#440154"/><rect x="324.74" y="448.51" width="4.84" height="4.94" fill="#440154"/><rect x="329.59" y="107.93" width="4.84" height="5.64" fill="#440154"/><rect x="329.59" y="112.86" width="4.84" height="5.64" fill="#440154"/><rect x="329.59" y="117.80" width="4.84" height="4.94" fill="#440154"/><rect x="329.59" y="132.61" width="5.54" height="4.94" fill="#440154"/><rect x="329.59" y="152.35" width="4.84" height="5.64" fill="#440154"/><rect x="329.59" y="157.29" width="5.54" height="4.94" fill="#440154"/><rect x="329.59" y="167.16" width="4.84" height="4.94" fill="#440154"/><rect x="329.59" y="181.97" width="4.84" height="4.94" fill="#440154"/><rect x="329.59" y="196.78" width="5.54" height="5.64" fill="#440154"/><rect x="329.59" y="201.71" width="5.54" height="4.94" fill="#440154"/><rect x="329.59" y="216.52" width="4.84" height="5.64" fill="#440154"/><rect x="329.59" y="221.46" width="4.84" height="5.64" fill="#440154"/><rect x="329.59" y="226.39" width="4.84" height="5.64" fill="#440154"/><rect x="329.59" y="231.33" width="4.84" height="4.94" fill="#48186a"/><rect x="329.59" y="251.07" width="5.54" height="5.64" fill="#48186a"/><rect x="329.59" y="256.01" width="5.54" height="5.64" fill="#440154"/><rect x="329.59" y="260.94" width="5.54" height="5.64" fill="#48186a"/><rect x="329.59" y="265.88" width="4.84" height="5.64" fill="#48186a"/><rect x="329.59" y="270.82" width="5.54" height="5.64" fill="#48186a"/><rect x="329.59" y="275.75" width="5.54" height="5.64" fill="#48186a"/><rect x="329.59" y="280.69" width="5.54" height="5.64" fill="#48186a"/><rect x="329.59" y="285.62" width="4.84" height="5.64" fill="#453681"/><rect x="329.59" y="290.56" width="5.54" height="5.64" fill="#48186a"/><rect x="329.59" y="295.50" width="5.54" height="5.64" fill="#48186a"/><rect x="329.59" y="300.43" width="5.54" height="5.64" fill="#48186a"/><rect x="329.59" y="305.37" width="5.54" height="5.64" fill="#29798e"/><rect x="329.59" y="310.30" width="5.54" height="5.64" fill="#33628d"/><rect x="329.59" y="315.24" width="5.54" height="5.64" fill="#453681"/><rect x="329.59" y="320.18" width="5.54" height="5.64" fill="#453681"/><rect x="329.59" y="325.11" width="5.54" height="5.64" fill="#3b528b"/><rect x="329.59" y="330.05" width="5.54" height="5.64" fill="#3b528b"/><rect x="329.59" y="334.98" width="5.54" height="5.64" fill="#33628d"/><rect x="329.59" y="339.92" width="5.54" height="5.64" fill="#6ece58"/><rect x="329.59" y="344.86" width="5.54" height="5.64" fill="#29798e"/><rect x="329.59" y="349.79" width="5.54" height="5.64" fill="#6ece58"/><rect x="329.59" y="354.73" width="5.54" height="5.64" fill="#32b57a"/><rect x="329.59" y="359.66" width="5.54" height="5.64" fill="#32b57a"/><rect x="329.59" y="364.60" width="5.54" height="5.64" fill="#453681"/><rect x="329.59" y="369.54" width="5.54" height="5.64" fill="#48186a"/><rect x="329.59" y="374.47" width="5.54" height="5.64" fill="#48186a"/><rect x="329.59" y="379.41" width="5.54" height="5.64" fill="#440154"/><rect x="329.59" y="384.34" width="5.54" height="4.94" fill="#440154"/><rect x="329.59" y="394.22" width="4.84" height="4.94" fill="#440154"/><rect x="329.59" y="418.90" width="4.84" height="4.94" fill="#440154"/><rect x="334.43" y="53.63" width="4.84" height="5.64" fill="#440154"/><rect x="334.43" y="58.57" width="4.84" height="4.94" fill="#440154"/><rect x="334.43" y="68.44" width="4.84" height="4.94" fill="#440154"/><rect x="334.43" y="93.12" width="4.84" height="4.94" fill="#440154"/><rect x="334.43" y="132.61" width="4.84" height="5.64" fill="#440154"/><rect x="334.43" y="137.54" width="4.84" height="4.94" fill="#440154"/><rect x="334.43" y="157.29" width="5.54" height="5.64" fill="#440154"/><rect x="334.43" y="162.22" width="5.54" height="4.94" fill="#440154"/><rect x="334.43" y="191.84" width="5.54" height="5.64" fill="#440154"/><rect x="334.43" y="196.78" width="4.84" height="5.64" fill="#440154"/><rect x="334.43" y="201.71" width="4.84" height="5.64" fill="#440154"/><rect x="334.43" y="206.65" width="4.84" height="5.64" fill="#440154"/><rect x="334.43" y="211.58" width="4.84" height="4.94" fill="#440154"/><rect x="334.43" y="241.20" width="5.54" height="4.94" fill="#440154"/><rect x="334.43" y="251.07" width="4.84" height="5.64" fill="#440154"/><rect x="334.43" y="256.01" width="5.54" height="5.64" fill="#440154"/><rect x="334.43" y="260.94" width="5.54" height="4.94" fill="#440154"/><rect x="334.43" y="270.82" width="5.54" height="5.64" fill="#48186a"/><rect x="334.43" y="275.75" width="5.54" height="5.64" fill="#48186a"/><rect x="334.43" y="280.69" width="5.54" height="4.94" fill="#453681"/><rect x="334.43" y="290.56" width="5.54" height="5.64" fill="#48186a"/><rect x="334.43" y="295.50" width="5.54" height="5.64" fill="#453681"/><rect x="334.43" y="300.43" width="5.54" height="5.64" fill="#453681"/><rect x="334.43" y="305.37" width="5.54" height="5.64" fill="#48186a"/><rect x="334.43" y="310.30" width="5.54" height="5.64" fill="#48186a"/><rect x="334.43" y="315.24" width="5.54" height="5.64" fill="#453681"/><rect x="334.43" y="320.18" width="5.54" height="5.64" fill="#453681"/><rect x="334.43" y="325.11" width="5.54" height="5.64" fill="#453681"/><rect x="334.43" y="330.05" width="5.54" height="5.64" fill="#33628d"/><rect x="334.43" y="334.98" width="5.54" height="5.64" fill="#29798e"/><rect x="334.43" y="339.92" width="5.54" height="5.64" fill="#33628d"/><rect x="334.43" y="344.86" width="5.54" height="5.64" fill="#33628d"/><rect x="334.43" y="349.79" width="5.54" height="5.64" fill="#6ece58"/><rect x="334.43" y="354.73" width="5.54" height="5.64" fill="#29798e"/><rect x="334.43" y="359.66" width="5.54" height="5.64" fill="#3b528b"/><rect x="334.43" y="364.60" width="5.54" height="5.64" fill="#453681"/><rect x="334.43" y="369.54" width="5.54" height="5.64" fill="#440154"/><rect x="334.43" y="374.47" width="5.54" height="5.64" fill="#48186a"/><rect x="334.43" y="379.41" width="4.84" height="5.64" fill="#440154"/><rect x="334.43" y="384.34" width="4.84" height="5.64" fill="#440154"/><rect x="334.43" y="389.28" width="4.84" height="4.94" fill="#440154"/><rect x="334.43" y="409.02" width="4.84" height="4.94" fill="#440154"/><rect x="339.28" y="107.93" width="4.84" height="4.94" fill="#440154"/><rect x="339.28" y="157.29" width="4.84" height="5.64" fill="#440154"/><rect x="339.28" y="162.22" width="4.84" height="5.64" fill="#440154"/><rect x="339.28" y="167.16" width="4.84" height="4.94" fill="#440154"/><rect x="339.28" y="191.84" width="4.84" height="4.94" fill="#440154"/><rect x="339.28" y="216.52" width="4.84" height="5.64" fill="#440154"/><rect x="339.28" y="221.46" width="5.54" height="5.64" fill="#440154"/><rect x="339.28" y="226.39" width="4.84" height="5.64" fill="#440154"/><rect x="339.28" y="231.33" width="5.54" height="5.64" fill="#440154"/><rect x="339.28" y="236.26" width="5.54" height="5.64" fill="#440154"/><rect x="339.28" y="241.20" width="5.54" height="4.94" fill="#440154"/><rect x="339.28" y="256.01" width="5.54" height="5.64" fill="#440154"/><rect x="339.28" y="260.94" width="5.54" height="4.94" fill="#440154"/><rect x="339.28" y="270.82" width="5.54" height="5.64" fill="#440154"/><rect x="339.28" y="275.75" width="5.54" height="5.64" fill="#440154"/><rect x="339.28" y="280.69" width="5.54" height="5.64" fill="#440154"/><rect x="339.28" y="285.62" width="4.84" height="5.64" fill="#48186a"/><rect x="339.28" y="290.56" width="5.54" height="5.64" fill="#48186a"/><rect x="339.28" y="295.50" width="5.54" height="5.64" fill="#48186a"/><rect x="339.28" y="300.43" width="5.54" height="5.64" fill="#48186a"/><rect x="339.28" y="305.37" width="5.54" height="5.64" fill="#48186a"/><rect x="339.28" y="310.30" width="5.54" height="5.64" fill="#48186a"/><rect x="339.28" y="315.24" width="4.84" height="5.64" fill="#48186a"/><rect x="339.28" y="320.18" width="5.54" height="5.64" fill="#453681"/><rect x="339.28" y="325.11" width="5.54" height="5.64" fill="#33628d"/><rect x="339.28" y="330.05" width="5.54" height="5.64" fill="#3b528b"/><rect x="339.28" y="334.98" width="5.54" height="5.64" fill="#29798e"/><rect x="339.28" y="339.92" width="5.54" height="5.64" fill="#29798e"/><rect x="339.28" y="344.86" width="5.54" height="5.64" fill="#32b57a"/><rect x="339.28" y="349.79" width="5.54" height="5.64" fill="#33628d"/><rect x="339.28" y="354.73" width="5.54" height="5.64" fill="#1f978b"/><rect x="339.28" y="359.66" width="5.54" height="5.64" fill="#3b528b"/><rect x="339.28" y="364.60" width="5.54" height="5.64" fill="#453681"/><rect x="339.28" y="369.54" width="5.54" height="5.64" fill="#48186a"/><rect x="339.28" y="374.47" width="5.54" height="4.94" fill="#440154"/><rect x="339.28" y="404.09" width="4.84" height="4.94" fill="#440154"/><rect x="339.28" y="423.83" width="5.54" height="4.94" fill="#440154"/><rect x="339.28" y="433.70" width="4.84" height="4.94" fill="#440154"/><rect x="344.12" y="98.06" width="5.54" height="5.64" fill="#440154"/><rect x="344.12" y="102.99" width="4.84" height="4.94" fill="#440154"/><rect x="344.12" y="221.46" width="4.84" height="4.94" fill="#440154"/><rect x="344.12" y="231.33" width="4.84" height="5.64" fill="#440154"/><rect x="344.12" y="236.26" width="4.84" height="5.64" fill="#440154"/><rect x="344.12" y="241.20" width="5.54" height="5.64" fill="#440154"/><rect x="344.12" y="246.14" width="4.84" height="4.94" fill="#440154"/><rect x="344.12" y="256.01" width="4.84" height="5.64" fill="#440154"/><rect x="344.12" y="260.94" width="5.54" height="5.64" fill="#440154"/><rect x="344.12" y="265.88" width="5.54" height="5.64" fill="#48186a"/><rect x="344.12" y="270.82" width="4.84" height="5.64" fill="#440154"/><rect x="344.12" y="275.75" width="5.54" height="5.64" fill="#440154"/><rect x="344.12" y="280.69" width="4.84" height="4.94" fill="#440154"/><rect x="344.12" y="290.56" width="5.54" height="5.64" fill="#48186a"/><rect x="344.12" y="295.50" width="5.54" height="5.64" fill="#440154"/><rect x="344.12" y="300.43" width="5.54" height="5.64" fill="#48186a"/><rect x="344.12" y="305.37" width="5.54" height="5.64" fill="#453681"/><rect x="344.12" y="310.30" width="5.54" height="4.94" fill="#453681"/><rect x="344.12" y="320.18" width="5.54" height="5.64" fill="#48186a"/><rect x="344.12" y="325.11" width="5.54" height="5.64" fill="#453681"/><rect x="344.12" y="330.05" width="5.54" height="5.64" fill="#453681"/><rect x="344.12" y="334.98" width="5.54" height="5.64" fill="#440154"/><rect x="344.12" y="339.92" width="5.54" height="5.64" fill="#1f978b"/><rect x="344.12" y="344.86" width="5.54" height="5.64" fill="#453681"/><rect x="344.12" y="349.79" width="5.54" height="5.64" fill="#29798e"/><rect x="344.12" y="354.73" width="5.54" height="5.64" fill="#453681"/><rect x="344.12" y="359.66" width="5.54" height="5.64" fill="#33628d"/><rect x="344.12" y="364.60" width="5.54" height="5.64" fill="#453681"/><rect x="344.12" y="369.54" width="5.54" height="5.64" fill="#48186a"/><rect x="344.12" y="374.47" width="5.54" height="5.64" fill="#48186a"/><rect x="344.12" y="379.41" width="4.84" height="5.64" fill="#440154"/><rect x="344.12" y="384.34" width="5.54" height="5.64" fill="#440154"/><rect x="344.12" y="389.28" width="5.54" height="4.94" fill="#440154"/><rect x="344.12" y="418.90" width="4.84" height="5.64" fill="#440154"/><rect x="344.12" y="423.83" width="4.84" height="5.64" fill="#440154"/><rect x="344.12" y="428.77" width="4.84" height="4.94" fill="#440154"/><rect x="344.12" y="458.38" width="4.84" height="4.94" fill="#440154"/><rect x="348.96" y="53.63" width="4.84" height="4.94" fill="#440154"/><rect x="348.96" y="98.06" width="4.84" height="4.94" fill="#440154"/><rect x="348.96" y="107.93" width="4.84" height="4.94" fill="#440154"/><rect x="348.96" y="132.61" width="5.54" height="4.94" fill="#440154"/><rect x="348.96" y="147.42" width="4.84" height="5.64" fill="#440154"/><rect x="348.96" y="152.35" width="4.84" height="4.94" fill="#440154"/><rect x="348.96" y="162.22" width="4.84" height="4.94" fill="#440154"/><rect x="348.96" y="181.97" width="4.84" height="4.94" fill="#440154"/><rect x="348.96" y="196.78" width="4.84" height="5.64" fill="#440154"/><rect x="348.96" y="201.71" width="4.84" height="5.64" fill="#440154"/><rect x="348.96" y="206.65" width="5.54" height="4.94" fill="#440154"/><rect x="348.96" y="241.20" width="4.84" height="4.94" fill="#440154"/><rect x="348.96" y="251.07" width="4.84" height="4.94" fill="#440154"/><rect x="348.96" y="260.94" width="4.84" height="5.64" fill="#440154"/><rect x="348.96" y="265.88" width="5.54" height="4.94" fill="#440154"/><rect x="348.96" y="275.75" width="5.54" height="4.94" fill="#440154"/><rect x="348.96" y="285.62" width="5.54" height="5.64" fill="#440154"/><rect x="348.96" y="290.56" width="5.54" height="5.64" fill="#48186a"/><rect x="348.96" y="295.50" width="5.54" height="5.64" fill="#48186a"/><rect x="348.96" y="300.43" width="5.54" height="5.64" fill="#48186a"/><rect x="348.96" y="305.37" width="4.84" height="5.64" fill="#440154"/><rect x="348.96" y="310.30" width="5.54" height="5.64" fill="#440154"/><rect x="348.96" y="315.24" width="5.54" height="5.64" fill="#440154"/><rect x="348.96" y="320.18" width="5.54" height="5.64" fill="#48186a"/><rect x="348.96" y="325.11" width="5.54" height="5.64" fill="#453681"/><rect x="348.96" y="330.05" width="5.54" height="5.64" fill="#440154"/><rect x="348.96" y="334.98" width="5.54" height="5.64" fill="#3b528b"/><rect x="348.96" y="339.92" width="5.54" height="5.64" fill="#453681"/><rect x="348.96" y="344.86" width="5.54" height="5.64" fill="#3b528b"/><rect x="348.96" y="349.79" width="5.54" height="5.64" fill="#29798e"/><rect x="348.96" y="354.73" width="5.54" height="5.64" fill="#453681"/><rect x="348.96" y="359.66" width="5.54" height="5.64" fill="#3b528b"/><rect x="348.96" y="364.60" width="5.54" height="5.64" fill="#48186a"/><rect x="348.96" y="369.54" width="5.54" height="5.64" fill="#48186a"/><rect x="348.96" y="374.47" width="5.54" height="4.94" fill="#440154"/><rect x="348.96" y="384.34" width="5.54" height="5.64" fill="#440154"/><rect x="348.96" y="389.28" width="4.84" height="4.94" fill="#440154"/><rect x="348.96" y="433.70" width="4.84" height="4.94" fill="#440154"/><rect x="353.81" y="48.70" width="4.84" height="4.94" fill="#440154"/><rect x="353.81" y="132.61" width="4.84" height="4.94" fill="#440154"/><rect x="353.81" y="191.84" width="4.84" height="4.94" fill="#440154"/><rect x="353.81" y="206.65" width="4.84" height="4.94" fill="#440154"/><rect x="353.81" y="221.46" width="5.54" height="4.94" fill="#440154"/><rect x="353.81" y="256.01" width="5.54" height="4.94" fill="#440154"/><rect x="353.81" y="265.88" width="5.54" height="4.94" fill="#440154"/><rect x="353.81" y="275.75" width="5.54" height="5.64" fill="#440154"/><rect x="353.81" y="280.69" width="4.84" height="5.64" fill="#440154"/><rect x="353.81" y="285.62" width="4.84" height="5.64" fill="#440154"/><rect x="353.81" y="290.56" width="5.54" height="5.64" fill="#48186a"/><rect x="353.81" y="295.50" width="4.84" height="5.64" fill="#440154"/><rect x="353.81" y="300.43" width="5.54" height="4.94" fill="#440154"/><rect x="353.81" y="310.30" width="5.54" height="5.64" fill="#440154"/><rect x="353.81" y="315.24" width="5.54" height="5.64" fill="#48186a"/><rect x="353.81" y="320.18" width="5.54" height="5.64" fill="#48186a"/><rect x="353.81" y="325.11" width="5.54" height="5.64" fill="#48186a"/><rect x="353.81" y="330.05" width="5.54" height="5.64" fill="#453681"/><rect x="353.81" y="334.98" width="5.54" height="5.64" fill="#453681"/><rect x="353.81" y="339.92" width="5.54" height="5.64" fill="#48186a"/><rect x="353.81" y="344.86" width="5.54" height="5.64" fill="#48186a"/><rect x="353.81" y="349.79" width="5.54" height="5.64" fill="#3b528b"/><rect x="353.81" y="354.73" width="5.54" height="5.64" fill="#33628d"/><rect x="353.81" y="359.66" width="5.54" height="5.64" fill="#48186a"/><rect x="353.81" y="364.60" width="5.54" height="5.64" fill="#48186a"/><rect x="353.81" y="369.54" width="5.54" height="5.64" fill="#440154"/><rect x="353.81" y="374.47" width="4.84" height="5.64" fill="#48186a"/><rect x="353.81" y="379.41" width="4.84" height="5.64" fill="#440154"/><rect x="353.81" y="384.34" width="4.84" height="4.94" fill="#440154"/><rect x="358.65" y="83.25" width="4.84" height="4.94" fill="#440154"/><rect x="358.65" y="172.10" width="4.84" height="5.64" fill="#440154"/><rect x="358.65" y="177.03" width="4.84" height="4.94" fill="#440154"/><rect x="358.65" y="196.78" width="4.84" height="5.64" fill="#440154"/><rect x="358.65" y="201.71" width="4.84" height="4.94" fill="#440154"/><rect x="358.65" y="221.46" width="4.84" height="4.94" fill="#440154"/><rect x="358.65" y="251.07" width="4.84" height="5.64" fill="#48186a"/><rect x="358.65" y="256.01" width="4.84" height="4.94" fill="#440154"/><rect x="358.65" y="265.88" width="5.54" height="5.64" fill="#440154"/><rect x="358.65" y="270.82" width="5.54" height="5.64" fill="#48186a"/><rect x="358.65" y="275.75" width="4.84" height="4.94" fill="#440154"/><rect x="358.65" y="290.56" width="5.54" height="4.94" fill="#440154"/><rect x="358.65" y="300.43" width="5.54" height="5.64" fill="#440154"/><rect x="358.65" y="305.37" width="5.54" height="5.64" fill="#48186a"/><rect x="358.65" y="310.30" width="5.54" height="5.64" fill="#440154"/><rect x="358.65" y="315.24" width="5.54" height="5.64" fill="#440154"/><rect x="358.65" y="320.18" width="5.54" height="5.64" fill="#440154"/><rect x="358.65" y="325.11" width="5.54" height="5.64" fill="#48186a"/><rect x="358.65" y="330.05" width="4.84" height="5.64" fill="#48186a"/><rect x="358.65" y="334.98" width="4.84" height="5.64" fill="#48186a"/><rect x="358.65" y="339.92" width="5.54" height="5.64" fill="#48186a"/><rect x="358.65" y="344.86" width="5.54" height="5.64" fill="#453681"/><rect x="358.65" y="349.79" width="5.54" height="5.64" fill="#3b528b"/><rect x="358.65" y="354.73" width="5.54" height="5.64" fill="#48186a"/><rect x="358.65" y="359.66" width="5.54" height="5.64" fill="#48186a"/><rect x="358.65" y="364.60" width="5.54" height="5.64" fill="#48186a"/><rect x="358.65" y="369.54" width="4.84" height="4.94" fill="#440154"/><rect x="363.50" y="68.44" width="4.84" height="4.94" fill="#440154"/><rect x="363.50" y="112.86" width="4.84" height="4.94" fill="#440154"/><rect x="363.50" y="127.67" width="4.84" height="4.94" fill="#440154"/><rect x="363.50" y="181.97" width="4.84" height="4.94" fill="#440154"/><rect x="363.50" y="226.39" width="4.84" height="4.94" fill="#440154"/><rect x="363.50" y="241.20" width="4.84" height="5.64" fill="#440154"/><rect x="363.50" y="246.14" width="5.54" height="4.94" fill="#48186a"/><rect x="363.50" y="260.94" width="5.54" height="5.64" fill="#440154"/><rect x="363.50" y="265.88" width="4.84" height="5.64" fill="#440154"/><rect x="363.50" y="270.82" width="4.84" height="4.94" fill="#48186a"/><rect x="363.50" y="280.69" width="4.84" height="5.64" fill="#440154"/><rect x="363.50" y="285.62" width="4.84" height="5.64" fill="#440154"/><rect x="363.50" y="290.56" width="4.84" height="4.94" fill="#440154"/><rect x="363.50" y="300.43" width="5.54" height="5.64" fill="#440154"/><rect x="363.50" y="305.37" width="5.54" height="5.64" fill="#48186a"/><rect x="363.50" y="310.30" width="5.54" height="5.64" fill="#48186a"/><rect x="363.50" y="315.24" width="5.54" height="5.64" fill="#453681"/><rect x="363.50" y="320.18" width="5.54" height="5.64" fill="#440154"/><rect x="363.50" y="325.11" width="5.54" height="4.94" fill="#440154"/><rect x="363.50" y="339.92" width="5.54" height="5.64" fill="#48186a"/><rect x="363.50" y="344.86" width="5.54" height="5.64" fill="#3b528b"/><rect x="363.50" y="349.79" width="5.54" height="5.64" fill="#48186a"/><rect x="363.50" y="354.73" width="5.54" height="5.64" fill="#453681"/><rect x="363.50" y="359.66" width="5.54" height="5.64" fill="#48186a"/><rect x="363.50" y="364.60" width="5.54" height="4.94" fill="#440154"/><rect x="363.50" y="379.41" width="4.84" height="4.94" fill="#440154"/><rect x="363.50" y="453.45" width="4.84" height="4.94" fill="#440154"/><rect x="368.34" y="122.74" width="4.84" height="4.94" fill="#440154"/><rect x="368.34" y="196.78" width="4.84" height="4.94" fill="#440154"/><rect x="368.34" y="206.65" width="4.84" height="4.94" fill="#440154"/><rect x="368.34" y="221.46" width="4.84" height="4.94" fill="#440154"/><rect x="368.34" y="236.26" width="4.84" height="4.94" fill="#440154"/><rect x="368.34" y="246.14" width="4.84" height="4.94" fill="#440154"/><rect x="368.34" y="260.94" width="4.84" height="4.94" fill="#440154"/><rect x="368.34" y="295.50" width="4.84" height="5.64" fill="#440154"/><rect x="368.34" y="300.43" width="5.54" height="5.64" fill="#440154"/><rect x="368.34" y="305.37" width="4.84" height="5.64" fill="#48186a"/><rect x="368.34" y="310.30" width="4.84" height="5.64" fill="#440154"/><rect x="368.34" y="315.24" width="5.54" height="5.64" fill="#440154"/><rect x="368.34" y="320.18" width="5.54" height="5.64" fill="#453681"/><rect x="368.34" y="325.11" width="4.84" height="5.64" fill="#440154"/><rect x="368.34" y="330.05" width="5.54" height="4.94" fill="#453681"/><rect x="368.34" y="339.92" width="4.84" height="5.64" fill="#48186a"/><rect x="368.34" y="344.86" width="5.54" height="5.64" fill="#48186a"/><rect x="368.34" y="349.79" width="5.54" height="5.64" fill="#48186a"/><rect x="368.34" y="354.73" width="4.84" height="5.64" fill="#48186a"/><rect x="368.34" y="359.66" width="5.54" height="5.64" fill="#48186a"/><rect x="368.34" y="364.60" width="5.54" height="4.94" fill="#48186a"/><rect x="373.18" y="132.61" width="4.84" height="4.94" fill="#440154"/><rect x="373.18" y="162.22" width="4.84" height="4.94" fill="#440154"/><rect x="373.18" y="181.97" width="4.84" height="4.94" fill="#440154"/><rect x="373.18" y="216.52" width="4.84" height="4.94" fill="#440154"/><rect x="373.18" y="251.07" width="4.84" height="4.94" fill="#440154"/><rect x="373.18" y="275.75" width="4.84" height="5.64" fill="#440154"/><rect x="373.18" y="280.69" width="4.84" height="4.94" fill="#440154"/><rect x="373.18" y="300.43" width="5.54" height="4.94" fill="#440154"/><rect x="373.18" y="315.24" width="5.54" height="5.64" fill="#440154"/><rect x="373.18" y="320.18" width="5.54" height="4.94" fill="#453681"/><rect x="373.18" y="330.05" width="5.54" height="5.64" fill="#440154"/><rect x="373.18" y="334.98" width="5.54" height="4.94" fill="#440154"/><rect x="373.18" y="344.86" width="5.54" height="5.64" fill="#48186a"/><rect x="373.18" y="349.79" width="5.54" height="4.94" fill="#453681"/><rect x="373.18" y="359.66" width="5.54" height="5.64" fill="#48186a"/><rect x="373.18" y="364.60" width="5.54" height="5.64" fill="#453681"/><rect x="373.18" y="369.54" width="4.84" height="4.94" fill="#440154"/><rect x="373.18" y="384.34" width="5.54" height="4.94" fill="#440154"/><rect x="378.03" y="98.06" width="5.54" height="4.94" fill="#440154"/><rect x="378.03" y="285.62" width="4.84" height="4.94" fill="#440154"/><rect x="378.03" y="300.43" width="4.84" height="4.94" fill="#440154"/><rect x="378.03" y="310.30" width="4.84" height="5.64" fill="#440154"/><rect x="378.03" y="315.24" width="5.54" height="5.64" fill="#440154"/><rect x="378.03" y="320.18" width="5.54" height="4.94" fill="#48186a"/><rect x="378.03" y="330.05" width="4.84" height="5.64" fill="#440154"/><rect x="378.03" y="334.98" width="5.54" height="4.94" fill="#440154"/><rect x="378.03" y="344.86" width="5.54" height="5.64" fill="#48186a"/><rect x="378.03" y="349.79" width="4.84" height="4.94" fill="#48186a"/><rect x="378.03" y="359.66" width="5.54" height="5.64" fill="#453681"/><rect x="378.03" y="364.60" width="4.84" height="4.94" fill="#48186a"/><rect x="378.03" y="384.34" width="4.84" height="4.94" fill="#440154"/><rect x="378.03" y="448.51" width="4.84" height="4.94" fill="#440154"/><rect x="382.87" y="98.06" width="4.84" height="4.94" fill="#440154"/><rect x="382.87" y="157.29" width="4.84" height="4.94" fill="#440154"/><rect x="382.87" y="206.65" width="4.84" height="4.94" fill="#440154"/><rect x="382.87" y="241.20" width="4.84" height="4.94" fill="#440154"/><rect x="382.87" y="280.69" width="4.84" height="4.94" fill="#440154"/><rect x="382.87" y="315.24" width="4.84" height="5.64" fill="#440154"/><rect x="382.87" y="320.18" width="4.84" height="4.94" fill="#440154"/><rect x="382.87" y="334.98" width="5.54" height="5.64" fill="#440154"/><rect x="382.87" y="339.92" width="4.84" height="5.64" fill="#440154"/><rect x="382.87" y="344.86" width="5.54" height="4.94" fill="#48186a"/><rect x="382.87" y="354.73" width="5.54" height="5.64" fill="#440154"/><rect x="382.87" y="359.66" width="5.54" height="4.94" fill="#453681"/><rect x="382.87" y="374.47" width="4.84" height="4.94" fill="#440154"/><rect x="387.72" y="122.74" width="4.84" height="4.94" fill="#440154"/><rect x="387.72" y="186.90" width="4.84" height="4.94" fill="#440154"/><rect x="387.72" y="236.26" width="4.84" height="4.94" fill="#440154"/><rect x="387.72" y="295.50" width="4.84" height="4.94" fill="#440154"/><rect x="387.72" y="334.98" width="4.84" height="4.94" fill="#440154"/><rect x="387.72" y="344.86" width="5.54" height="5.64" fill="#48186a"/><rect x="387.72" y="349.79" width="5.54" height="5.64" fill="#453681"/><rect x="387.72" y="354.73" width="5.54" height="5.64" fill="#440154"/><rect x="387.72" y="359.66" width="5.54" height="4.94" fill="#48186a"/><rect x="387.72" y="384.34" width="4.84" height="4.94" fill="#440154"/><rect x="392.56" y="63.50" width="4.84" height="4.94" fill="#440154"/><rect x="392.56" y="78.31" width="4.84" height="4.94" fill="#440154"/><rect x="392.56" y="112.86" width="4.84" height="4.94" fill="#440154"/><rect x="392.56" y="216.52" width="4.84" height="4.94" fill="#440154"/><rect x="392.56" y="339.92" width="5.54" height="5.64" fill="#440154"/><rect x="392.56" y="344.86" width="4.84" height="5.64" fill="#440154"/><rect x="392.56" y="349.79" width="5.54" height="5.64" fill="#440154"/><rect x="392.56" y="354.73" width="5.54" height="5.64" fill="#440154"/><rect x="392.56" y="359.66" width="4.84" height="5.64" fill="#440154"/><rect x="392.56" y="364.60" width="5.54" height="5.64" fill="#440154"/><rect x="392.56" y="369.54" width="5.54" height="5.64" fill="#440154"/><rect x="392.56" y="374.47" width="4.84" height="4.94" fill="#440154"/><rect x="397.40" y="265.88" width="5.54" height="4.94" fill="#440154"/><rect x="397.40" y="320.18" width="4.84" height="4.94" fill="#440154"/><rect x="397.40" y="330.05" width="4.84" height="4.94" fill="#440154"/><rect x="397.40" y="339.92" width="4.84" height="4.94" fill="#440154"/><rect x="397.40" y="349.79" width="4.84" height="5.64" fill="#440154"/><rect x="397.40" y="354.73" width="4.84" height="4.94" fill="#440154"/><rect x="397.40" y="364.60" width="4.84" height="5.64" fill="#440154"/><rect x="397.40" y="369.54" width="4.84" height="4.94" fill="#440154"/><rect x="402.25" y="201.71" width="5.54" height="4.94" fill="#440154"/><rect x="402.25" y="265.88" width="4.84" height="4.94" fill="#440154"/><rect x="402.25" y="359.66" width="4.84" height="4.94" fill="#440154"/><rect x="407.09" y="201.71" width="4.84" height="4.94" fill="#440154"/><rect x="407.09" y="285.62" width="4.84" height="4.94" fill="#440154"/><rect x="407.09" y="300.43" width="4.84" height="4.94" fill="#440154"/><rect x="407.09" y="354.73" width="4.84" height="4.94" fill="#440154"/><rect x="411.94" y="339.92" width="4.84" height="4.94" fill="#440154"/><rect x="411.94" y="423.83" width="4.84" height="4.94" fill="#440154"/><rect x="411.94" y="453.45" width="4.84" height="4.94" fill="#440154"/><rect x="416.78" y="211.58" width="4.84" height="4.94" fill="#440154"/><rect x="421.62" y="364.60" width="4.84" height="4.94" fill="#440154"/><rect x="431.31" y="285.62" width="4.84" height="4.94" fill="#440154"/><rect x="431.31" y="359.66" width="4.84" height="4.94" fill="#440154"/><rect x="436.16" y="256.01" width="4.84" height="4.94" fill="#440154"/><rect x="436.16" y="320.18" width="4.84" height="4.94" fill="#440154"/><rect x="436.16" y="349.79" width="4.84" height="4.94" fill="#440154"/><rect x="436.16" y="364.60" width="4.84" height="4.94" fill="#440154"/><rect x="441.00" y="38.82" width="4.84" height="4.94" fill="#440154"/><rect x="441.00" y="280.69" width="4.84" height="4.94" fill="#440154"/><rect x="441.00" y="325.11" width="4.84" height="4.94" fill="#440154"/><rect x="445.84" y="364.60" width="4.84" height="4.94" fill="#440154"/><rect x="445.84" y="384.34" width="4.84" height="4.94" fill="#440154"/><rect x="450.69" y="295.50" width="4.84" height="4.94" fill="#440154"/><rect x="474.91" y="191.84" width="4.84" height="4.94" fill="#440154"/></g>
<line x1="320.40" x2="320.40" y1="8.9" y2="497.8" stroke="#111" stroke-width="1.4"/>
<line y1="364.55" y2="364.55" x1="61.0" x2="540.6" stroke="#111" stroke-width="1.4"/>
<rect x="61.0" y="8.9" width="479.60" height="488.90" fill="none" stroke="#2b2b2b" stroke-width="1.6"/>
<line x1="82.62" x2="82.62" y1="497.8" y2="504.0" stroke="#2b2b2b" stroke-width="1.4"/><text x="82.62" y="518.6" font-size="12.3" fill="#4d4d4d" text-anchor="middle">-60</text><line x1="201.51" x2="201.51" y1="497.8" y2="504.0" stroke="#2b2b2b" stroke-width="1.4"/><text x="201.51" y="518.6" font-size="12.3" fill="#4d4d4d" text-anchor="middle">-30</text><line x1="320.40" x2="320.40" y1="497.8" y2="504.0" stroke="#2b2b2b" stroke-width="1.4"/><text x="320.40" y="518.6" font-size="12.3" fill="#4d4d4d" text-anchor="middle">0</text><line x1="439.29" x2="439.29" y1="497.8" y2="504.0" stroke="#2b2b2b" stroke-width="1.4"/><text x="439.29" y="518.6" font-size="12.3" fill="#4d4d4d" text-anchor="middle">30</text><line y1="475.60" y2="475.60" x1="54.5" x2="61.0" stroke="#2b2b2b" stroke-width="1.4"/><text x="49.4" y="480.60" font-size="12.3" fill="#4d4d4d" text-anchor="end">-50</text><line y1="364.55" y2="364.55" x1="54.5" x2="61.0" stroke="#2b2b2b" stroke-width="1.4"/><text x="49.4" y="369.55" font-size="12.3" fill="#4d4d4d" text-anchor="end">0</text><line y1="253.50" y2="253.50" x1="54.5" x2="61.0" stroke="#2b2b2b" stroke-width="1.4"/><text x="49.4" y="258.50" font-size="12.3" fill="#4d4d4d" text-anchor="end">50</text><line y1="142.45" y2="142.45" x1="54.5" x2="61.0" stroke="#2b2b2b" stroke-width="1.4"/><text x="49.4" y="147.45" font-size="12.3" fill="#4d4d4d" text-anchor="end">100</text><line y1="31.40" y2="31.40" x1="54.5" x2="61.0" stroke="#2b2b2b" stroke-width="1.4"/><text x="49.4" y="36.40" font-size="12.3" fill="#4d4d4d" text-anchor="end">150</text>
<text x="300.3" y="538.4" font-size="15.2" fill="#000" text-anchor="middle">Change in vegetation cover (2015% minus 2000%)</text>
<text transform="translate(20.2,253.5) rotate(-90)" font-size="15.2" fill="#000" text-anchor="middle">Change in urban area size (% of 2000)</text>
<text x="87.5" y="45.7" font-size="18" font-weight="bold" fill="#000" text-anchor="middle">a</text>
<text x="512.6" y="45.7" font-size="18" font-weight="bold" fill="#000" text-anchor="middle">c</text>
<text x="88" y="476" font-size="18" font-weight="bold" fill="#000" text-anchor="middle">b</text>
<text x="512.2" y="476" font-size="18" font-weight="bold" fill="#000" text-anchor="middle">d</text>
<defs><linearGradient id="lg" x1="0" y1="1" x2="0" y2="0"><stop offset="0.0000" stop-color="#440154"/><stop offset="0.0526" stop-color="#481567"/><stop offset="0.1053" stop-color="#482677"/><stop offset="0.1579" stop-color="#453781"/><stop offset="0.2105" stop-color="#404788"/><stop offset="0.2632" stop-color="#39568C"/><stop offset="0.3158" stop-color="#33638D"/><stop offset="0.3684" stop-color="#2D708E"/><stop offset="0.4211" stop-color="#287D8E"/><stop offset="0.4737" stop-color="#238A8D"/><stop offset="0.5263" stop-color="#1F968B"/><stop offset="0.5789" stop-color="#20A387"/><stop offset="0.6316" stop-color="#29AF7F"/><stop offset="0.6842" stop-color="#3CBB75"/><stop offset="0.7368" stop-color="#55C667"/><stop offset="0.7895" stop-color="#73D055"/><stop offset="0.8421" stop-color="#95D840"/><stop offset="0.8947" stop-color="#B8DE29"/><stop offset="0.9474" stop-color="#DCE319"/><stop offset="1.0000" stop-color="#FDE725"/></linearGradient></defs>
<rect x="495.4" y="136" width="9.2" height="62" fill="url(#lg)"/>
<line x1="495.4" x2="497.2" y1="180.56" y2="180.56" stroke="#fff" stroke-width="0.5"/><line x1="502.8" x2="504.6" y1="180.56" y2="180.56" stroke="#fff" stroke-width="0.5"/>
<text x="512" y="184.76" font-size="12.3" fill="#000">10</text>
<line x1="495.4" x2="497.2" y1="161.19" y2="161.19" stroke="#fff" stroke-width="0.5"/><line x1="502.8" x2="504.6" y1="161.19" y2="161.19" stroke="#fff" stroke-width="0.5"/>
<text x="512" y="165.39" font-size="12.3" fill="#000">20</text>
<line x1="495.4" x2="497.2" y1="141.81" y2="141.81" stroke="#fff" stroke-width="0.5"/><line x1="502.8" x2="504.6" y1="141.81" y2="141.81" stroke="#fff" stroke-width="0.5"/>
<text x="512" y="146.01" font-size="12.3" fill="#000">30</text>
<text x="495.4" y="127" font-size="15.2" fill="#000">count</text>
</svg></body></html>
